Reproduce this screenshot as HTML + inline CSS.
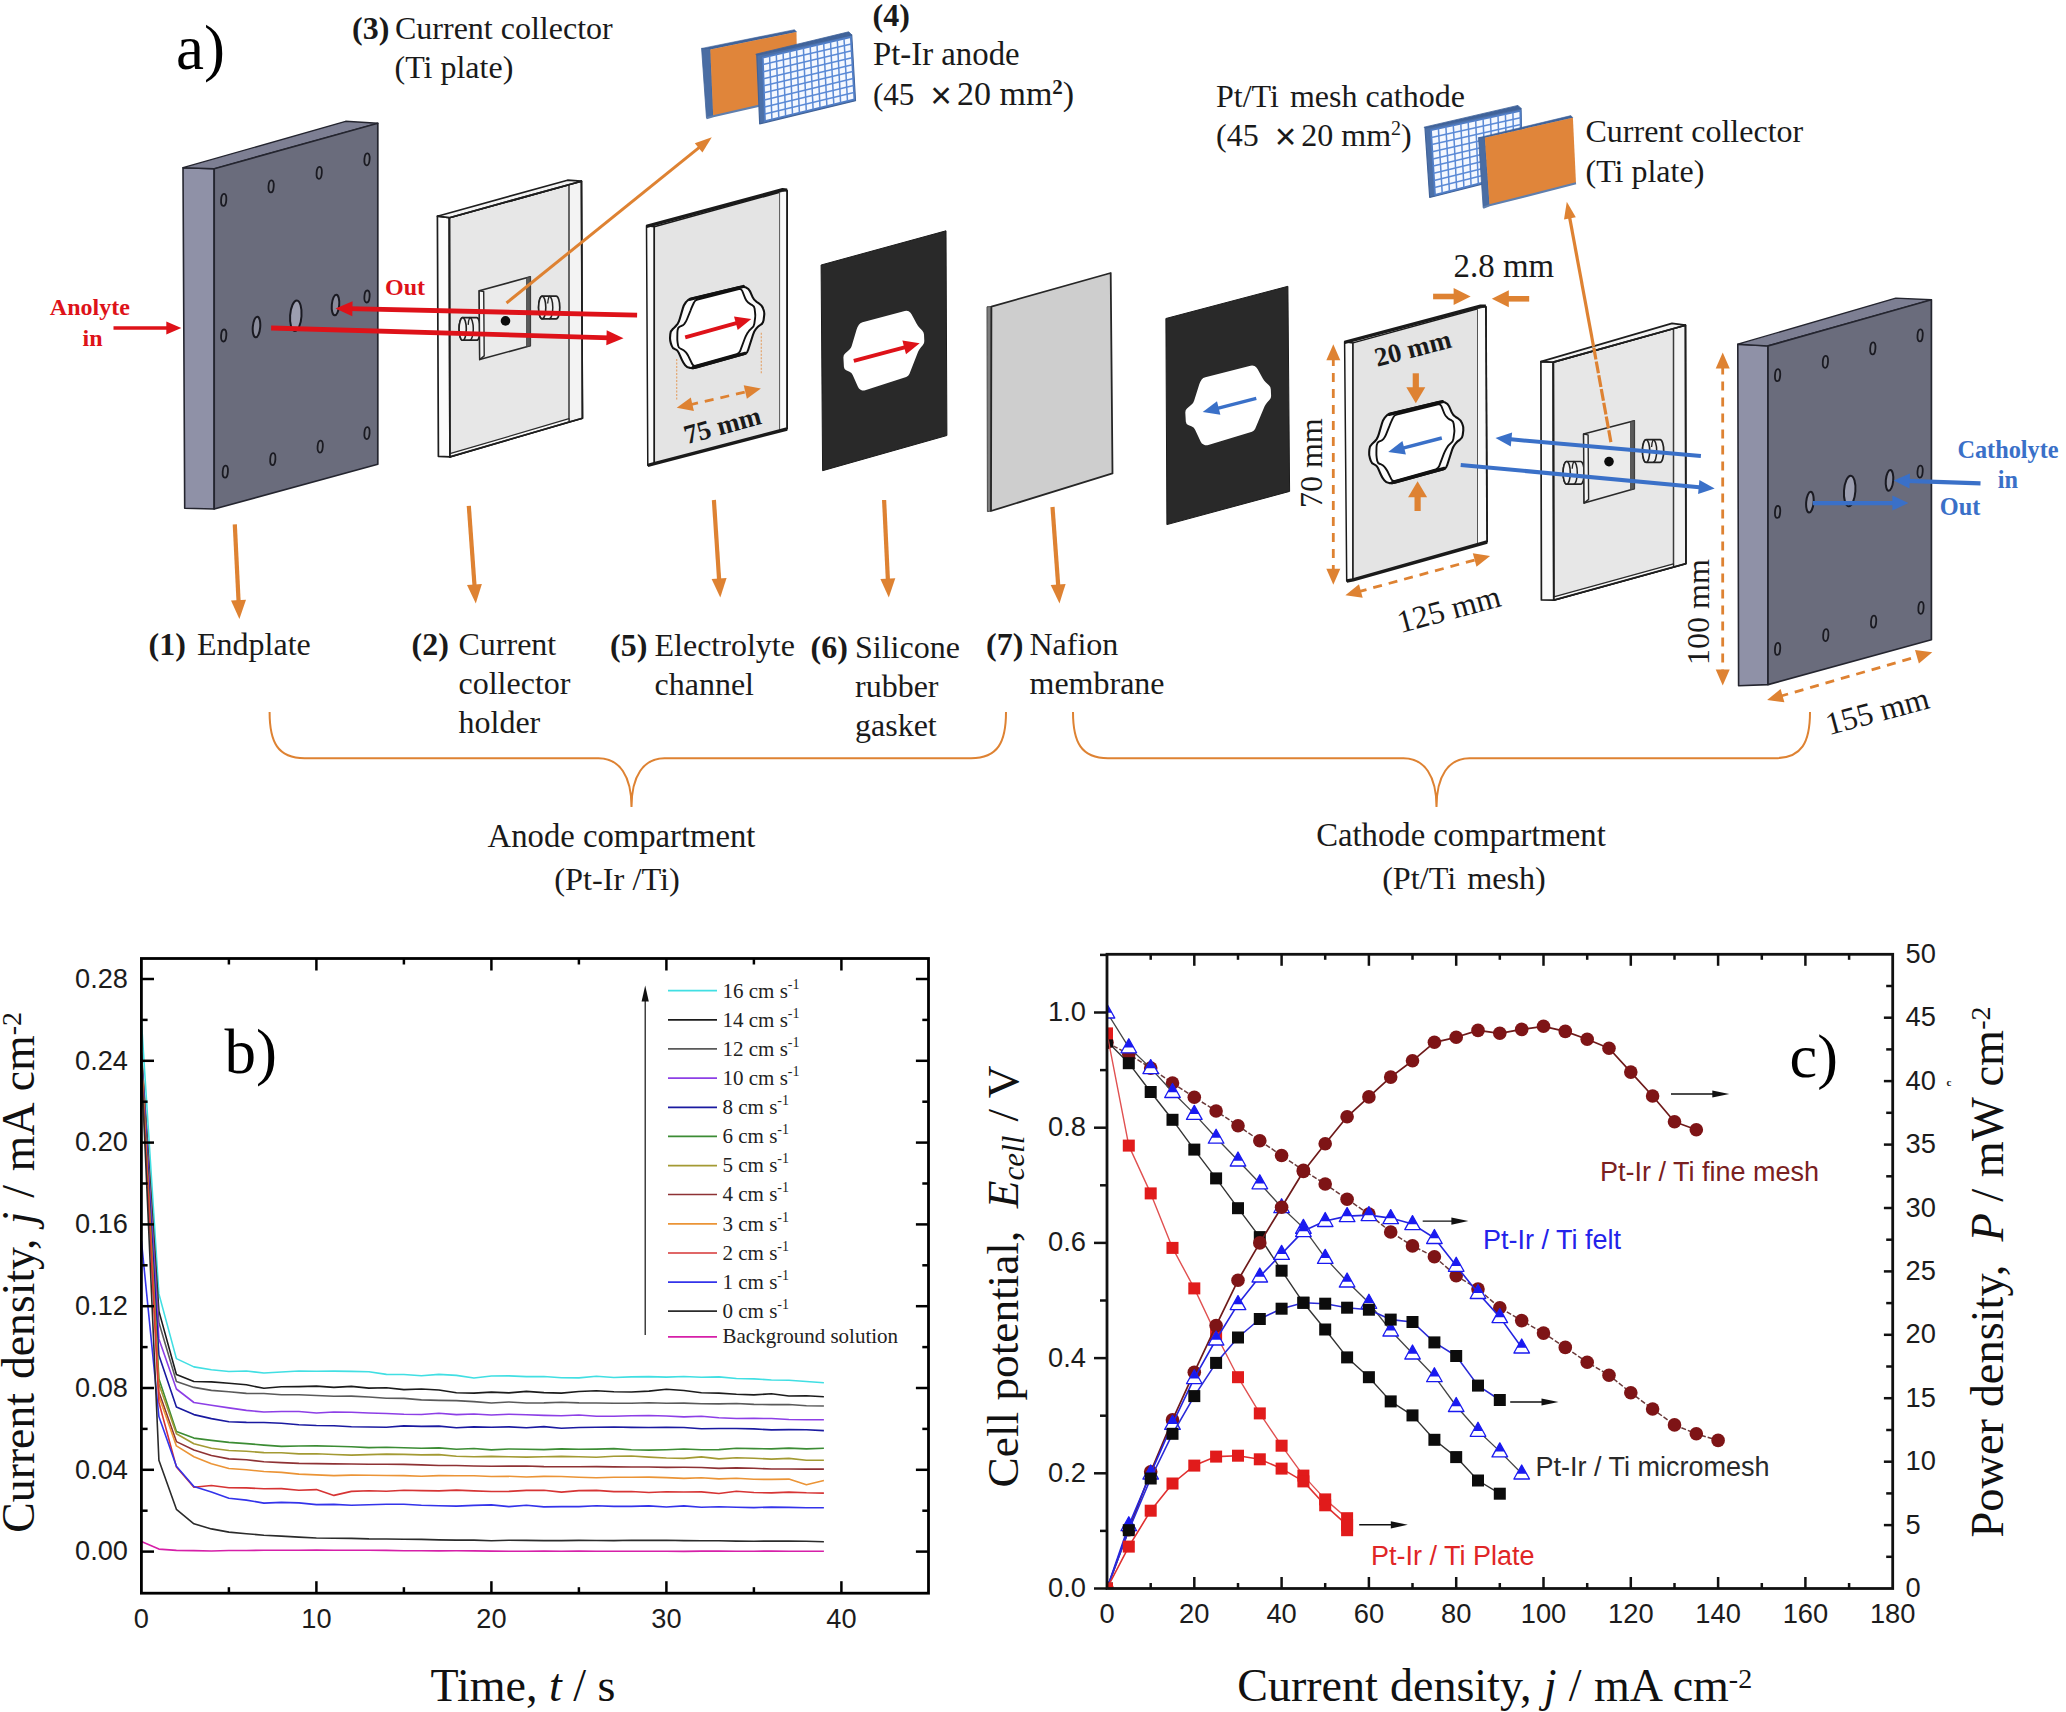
<!DOCTYPE html>
<html><head><meta charset="utf-8"><title>Figure</title>
<style>html,body{margin:0;padding:0;background:#fff}svg{display:block}</style>
</head><body>
<svg width="2066" height="1712" viewBox="0 0 2066 1712">
<rect x="0" y="0" width="2066" height="1712" fill="#ffffff"/>
<g id="parta">
<polygon points="183,167.7 214.2,168.8 214.2,509 184.7,508.3" fill="#8f91a7" stroke="#24252f" stroke-width="1.6" stroke-linejoin="round" />
<polygon points="183,167.7 345.6,121.3 377.8,123.3 214.2,168.8" fill="#7d7f93" stroke="#24252f" stroke-width="1.4" stroke-linejoin="round" />
<polygon points="214.2,168.8 377.8,123.3 377.8,464.2 214.2,509" fill="#6a6c7c" stroke="#24252f" stroke-width="1.7" stroke-linejoin="round" />
<ellipse cx="223.7" cy="199.9" rx="2.6" ry="6" fill="#72747f" stroke="#1a1a22" stroke-width="1.8" transform="rotate(4 223.7 199.9)"/>
<ellipse cx="271.1" cy="186.4" rx="2.6" ry="6" fill="#72747f" stroke="#1a1a22" stroke-width="1.8" transform="rotate(4 271.1 186.4)"/>
<ellipse cx="319.2" cy="172.8" rx="2.6" ry="6" fill="#72747f" stroke="#1a1a22" stroke-width="1.8" transform="rotate(4 319.2 172.8)"/>
<ellipse cx="367" cy="159.3" rx="2.6" ry="6" fill="#72747f" stroke="#1a1a22" stroke-width="1.8" transform="rotate(4 367 159.3)"/>
<ellipse cx="223.7" cy="335.5" rx="2.6" ry="6" fill="#72747f" stroke="#1a1a22" stroke-width="1.8" transform="rotate(4 223.7 335.5)"/>
<ellipse cx="367" cy="296.5" rx="2.6" ry="6" fill="#72747f" stroke="#1a1a22" stroke-width="1.8" transform="rotate(4 367 296.5)"/>
<ellipse cx="225.3" cy="471.7" rx="2.6" ry="6" fill="#72747f" stroke="#1a1a22" stroke-width="1.8" transform="rotate(4 225.3 471.7)"/>
<ellipse cx="272.8" cy="459.2" rx="2.6" ry="6" fill="#72747f" stroke="#1a1a22" stroke-width="1.8" transform="rotate(4 272.8 459.2)"/>
<ellipse cx="320.2" cy="446.6" rx="2.6" ry="6" fill="#72747f" stroke="#1a1a22" stroke-width="1.8" transform="rotate(4 320.2 446.6)"/>
<ellipse cx="367" cy="433.1" rx="2.6" ry="6" fill="#72747f" stroke="#1a1a22" stroke-width="1.8" transform="rotate(4 367 433.1)"/>
<ellipse cx="256.5" cy="327" rx="3.7" ry="10.4" fill="#8a8c9c" stroke="#1a1a22" stroke-width="2.0" transform="rotate(5 256.5 327)"/>
<ellipse cx="335.5" cy="305" rx="3.7" ry="10.4" fill="#8a8c9c" stroke="#1a1a22" stroke-width="2.0" transform="rotate(5 335.5 305)"/>
<ellipse cx="295.8" cy="315.8" rx="5.7" ry="15.3" fill="#9c9eb0" stroke="#1a1a22" stroke-width="2.0" transform="rotate(4 295.8 315.8)"/>
<polygon points="437.4,216.2 449.4,217.7 449.9,456.9 438.4,456.4" fill="#fcfcfc" stroke="#1e1e1e" stroke-width="1.7" stroke-linejoin="round" />
<polygon points="449.4,217.7 581.4,181.2 582.4,418.2 449.9,456.9" fill="#e7e7e7" stroke="#1e1e1e" stroke-width="1.7" stroke-linejoin="round" />
<polygon points="569,184.6 581.4,181.2 582.4,418.2 569,421.9" fill="#f3f3f3" stroke="#3a3a3a" stroke-width="1.5" stroke-linejoin="round" />
<polygon points="449.9,453.7 569,418.7 569,421.9 449.9,456.9" fill="#f8f8f8" stroke="#2a2a2a" stroke-width="1.2" stroke-linejoin="round" />
<polygon points="437.4,216.2 567.5,180.2 581.4,181.2 449.4,217.7" fill="#f4f4f4" stroke="#1e1e1e" stroke-width="1.7" stroke-linejoin="round" />
<polygon points="449.4,217.7 581.4,181.2 582.4,418.2 449.9,456.9" fill="none" stroke="#1e1e1e" stroke-width="1.7" stroke-linejoin="round" />
<g transform="translate(469.7 328.9)">
<path d="M-7,-11.3 L7,-11.3 A3.6,11.3 0 0 1 7,11.3 L-7,11.3 A3.6,11.3 0 0 1 -7,-11.3 Z" fill="#efefef" stroke="#222" stroke-width="1.7" />
<ellipse cx="-7" cy="0" rx="3.6" ry="11.3" fill="#f2f2f2" stroke="#222" stroke-width="1.6" />
<path d="M0,-11.3 A3.6,11.3 0 0 1 0,11.3" fill="none" stroke="#222" stroke-width="1.5" />
<path d="M0,-11.3 A3.6,11.3 0 0 0 -1.5,-4" fill="none" stroke="#222" stroke-width="1.3" />
</g>
<g transform="translate(549.2 307.5)">
<path d="M-7,-11.3 L7,-11.3 A3.6,11.3 0 0 1 7,11.3 L-7,11.3 A3.6,11.3 0 0 1 -7,-11.3 Z" fill="#efefef" stroke="#222" stroke-width="1.7" />
<ellipse cx="-7" cy="0" rx="3.6" ry="11.3" fill="#f2f2f2" stroke="#222" stroke-width="1.6" />
<path d="M0,-11.3 A3.6,11.3 0 0 1 0,11.3" fill="none" stroke="#222" stroke-width="1.5" />
<path d="M0,-11.3 A3.6,11.3 0 0 0 -1.5,-4" fill="none" stroke="#222" stroke-width="1.3" />
</g>
<polygon points="479.2,290.7 530.3,276.8 530.3,345.7 479.7,359.6" fill="#ebebeb" stroke="#2a2a2a" stroke-width="1.6" stroke-linejoin="round" />
<polygon points="479.2,290.7 483.7,291.5 484.2,355.9 479.7,359.6" fill="#f6f6f6" stroke="#2a2a2a" stroke-width="1.4" stroke-linejoin="round" />
<polygon points="526.5,277.8 530.3,276.8 530.3,345.7 526.5,346.7" fill="#5a5a5a" stroke="#444" stroke-width="0.8" stroke-linejoin="round" />
<circle cx="505.5" cy="320.9" r="4.8" fill="#0c0c0c"/>
<line x1="506.5" y1="303" x2="701.2" y2="145.8" stroke="#de8232" stroke-width="3" />
<polygon points="711.8,137.2 702.4,152.6 694.8,143.3" fill="#de8232" stroke="none" stroke-width="1" stroke-linejoin="round" />
<line x1="637.1" y1="315.1" x2="349.1" y2="308.7" stroke="#de1219" stroke-width="4.8" />
<polygon points="335.5,308.4 352.6,301.3 352.3,316.3" fill="#de1219" stroke="none" stroke-width="1" stroke-linejoin="round" />
<line x1="271.1" y1="328" x2="609.9" y2="337.8" stroke="#de1219" stroke-width="4.8" />
<polygon points="623.5,338.2 606.3,345.2 606.7,330.2" fill="#de1219" stroke="none" stroke-width="1" stroke-linejoin="round" />
<line x1="113.5" y1="328" x2="169.3" y2="328" stroke="#de1219" stroke-width="3.6" />
<polygon points="181.3,328 166.3,334.5 166.3,321.5" fill="#de1219" stroke="none" stroke-width="1" stroke-linejoin="round" />
<text x="89.8" y="315.3" font-family='"Liberation Serif", serif' font-size="24" fill="#de1219" font-weight="bold" font-style="normal" text-anchor="middle" >Anolyte</text>
<text x="92.5" y="346" font-family='"Liberation Serif", serif' font-size="24" fill="#de1219" font-weight="bold" font-style="normal" text-anchor="middle" >in</text>
<text x="405" y="294.5" font-family='"Liberation Serif", serif' font-size="24" fill="#de1219" font-weight="bold" font-style="normal" text-anchor="middle" >Out</text>
<polygon points="701.6,48.4 794.5,29.7 796.5,31.9 710.3,49.4" fill="#40639a" stroke="#40639a" stroke-width="0.6" stroke-linejoin="round" />
<polygon points="701.6,48.4 710.3,49.4 713.2,116.2 706.5,118.1" fill="#4a6da3" stroke="#40639a" stroke-width="0.8" stroke-linejoin="round" />
<polygon points="710.3,49.4 796.5,31.9 797.5,97 713.2,116.2" fill="#e0853a" stroke="none" stroke-width="1" stroke-linejoin="round" />
<polyline points="706.5,118.1 713.2,116.2 797.5,97" fill="none" stroke="#5f7fae" stroke-width="2.2" stroke-linejoin="round" />
<polygon points="755.8,54.2 848.7,31.8 851.7,34.8 756.8,55.2" fill="#40639a" stroke="#40639a" stroke-width="0.8" stroke-linejoin="round" />
<polygon points="756.8,55.2 851.7,34.8 855.5,100.7 759.7,123.9" fill="#4c70a8" stroke="#40639a" stroke-width="1.2" stroke-linejoin="round" />
<polygon points="762.8,57.6 850.8,37 854.4,99.3 765,121" fill="#f4f8ff" stroke="#4f7cc4" stroke-width="1.8" stroke-linejoin="round" />
<line x1="769.6" y1="56" x2="771.9" y2="119.3" stroke="#5b8ad6" stroke-width="1.5" />
<line x1="776.3" y1="54.4" x2="778.8" y2="117.7" stroke="#5b8ad6" stroke-width="1.5" />
<line x1="783.1" y1="52.8" x2="785.6" y2="116" stroke="#5b8ad6" stroke-width="1.5" />
<line x1="789.9" y1="51.3" x2="792.5" y2="114.3" stroke="#5b8ad6" stroke-width="1.5" />
<line x1="796.6" y1="49.7" x2="799.4" y2="112.7" stroke="#5b8ad6" stroke-width="1.5" />
<line x1="803.4" y1="48.1" x2="806.3" y2="111" stroke="#5b8ad6" stroke-width="1.5" />
<line x1="810.2" y1="46.5" x2="813.1" y2="109.3" stroke="#5b8ad6" stroke-width="1.5" />
<line x1="817" y1="44.9" x2="820" y2="107.6" stroke="#5b8ad6" stroke-width="1.5" />
<line x1="823.7" y1="43.3" x2="826.9" y2="106" stroke="#5b8ad6" stroke-width="1.5" />
<line x1="830.5" y1="41.8" x2="833.8" y2="104.3" stroke="#5b8ad6" stroke-width="1.5" />
<line x1="837.3" y1="40.2" x2="840.6" y2="102.6" stroke="#5b8ad6" stroke-width="1.5" />
<line x1="844" y1="38.6" x2="847.5" y2="101" stroke="#5b8ad6" stroke-width="1.5" />
<line x1="763" y1="64.6" x2="851.2" y2="43.9" stroke="#5b8ad6" stroke-width="1.5" />
<line x1="763.3" y1="71.7" x2="851.6" y2="50.8" stroke="#5b8ad6" stroke-width="1.5" />
<line x1="763.5" y1="78.7" x2="852" y2="57.8" stroke="#5b8ad6" stroke-width="1.5" />
<line x1="763.8" y1="85.8" x2="852.4" y2="64.7" stroke="#5b8ad6" stroke-width="1.5" />
<line x1="764" y1="92.8" x2="852.8" y2="71.6" stroke="#5b8ad6" stroke-width="1.5" />
<line x1="764.3" y1="99.9" x2="853.2" y2="78.5" stroke="#5b8ad6" stroke-width="1.5" />
<line x1="764.5" y1="106.9" x2="853.6" y2="85.5" stroke="#5b8ad6" stroke-width="1.5" />
<line x1="764.8" y1="114" x2="854" y2="92.4" stroke="#5b8ad6" stroke-width="1.5" />
<text x="872.5" y="25.5" font-family='"Liberation Serif", serif' font-size="32" fill="#1a1a1a" font-weight="bold" font-style="normal" text-anchor="start" >(4)</text>
<text x="873" y="65" font-family='"Liberation Serif", serif' font-size="32.8" fill="#1a1a1a" font-weight="normal" font-style="normal" text-anchor="start" >Pt-Ir anode</text>
<text x="873" y="104.5" font-family='"Liberation Serif", serif' font-size="32" fill="#1a1a1a" font-weight="normal" font-style="normal" text-anchor="start" ><tspan font-size="31">(45</tspan>  <tspan font-family='"Liberation Sans", sans-serif' font-size="37" dy="3" dx="0">×</tspan><tspan dx="5" dy="-3" font-size="34">20 mm</tspan><tspan font-size="21" dy="-11" font-weight="bold">2</tspan><tspan dy="11" font-size="34">)</tspan></text>
<text x="352" y="39" font-family='"Liberation Serif", serif' font-size="32" fill="#1a1a1a" font-weight="bold" font-style="normal" text-anchor="start" >(3)</text>
<text x="395" y="39" font-family='"Liberation Serif", serif' font-size="32" fill="#1a1a1a" font-weight="normal" font-style="normal" text-anchor="start" >Current collector</text>
<text x="394.5" y="78" font-family='"Liberation Serif", serif' font-size="32" fill="#1a1a1a" font-weight="normal" font-style="normal" text-anchor="start" >(Ti plate)</text>
<text x="176" y="69" font-family='"Liberation Serif", serif' font-size="63" fill="#000" font-weight="normal" font-style="normal" text-anchor="start" >a)</text>
<polygon points="646.5,225.7 654.3,226.7 654.3,463.6 647.8,465.4" fill="#fbfbfb" stroke="#1a1a1a" stroke-width="1.5" stroke-linejoin="round" />
<polygon points="654.3,226.7 787.1,190.2 787.1,429 654.3,463.6" fill="#e4e4e4" stroke="#1a1a1a" stroke-width="1.5" stroke-linejoin="round" />
<polygon points="779.6,192.2 787.1,190.2 787.1,429 779.6,431" fill="#fafafa" stroke="#555" stroke-width="1" stroke-linejoin="round" />
<polyline points="646.5,226.3 782.6,189.7 787.1,190.1" fill="none" stroke="#1a1a1a" stroke-width="3.3" stroke-linejoin="round" />
<polyline points="647.8,465.4 654.3,463.6 787.1,429" fill="none" stroke="#1a1a1a" stroke-width="3.4" stroke-linejoin="round" />
<polyline points="787.1,190.2 787.1,429" fill="none" stroke="#1a1a1a" stroke-width="1.8" stroke-linejoin="round" />
<path d="M686.1,302 Q688,299.4 691.1,298.7 L739.6,287 Q742.7,286.3 745.4,287.2 L746,287.4 Q748.7,288.4 750,291.3 L752.6,297.2 Q753.9,300.1 756.6,301.9 L758.9,303.3 Q761.6,305 762.9,308 L763.3,309.1 Q764.6,312.1 764.2,315.2 L763.6,320.1 Q763.2,323.3 760.9,324.6 L760.4,324.9 Q758.1,326.2 756.2,328.7 L755.8,329.2 Q753.9,331.7 753,334.7 L748.2,349.7 Q747.3,352.7 745.8,353.4 L745.5,353.6 Q744.1,354.3 741,355.1 L696.7,367.4 Q693.6,368.3 690.6,368 L690,367.9 Q687,367.6 685.3,365.3 L684.9,364.8 Q683.1,362.5 681.8,359.6 L678.8,352.8 Q677.5,349.9 675.3,349.3 L674.8,349.1 Q672.6,348.5 671.6,345.5 L670.8,343.1 Q669.8,340.1 670.1,336.9 L670.3,334.2 Q670.5,331 672.9,328.9 L673.7,328.2 Q676.1,326.1 677.4,324.2 L677.7,323.8 Q678.9,321.9 679.8,318.8 L682.9,308.1 Q683.8,305 685.7,302.5 Z" fill="#fbfbfb" stroke="#111" stroke-width="2.1" stroke-linejoin="round"/>
<path d="M694,302.5 Q695,300.1 697.6,299.5 L738.8,289.2 Q741.3,288.6 742.3,291 L745.2,298.4 Q746.2,300.8 748.1,302.4 L748.5,302.8 Q750.4,304.3 752.2,305.1 L752.5,305.3 Q754.3,306.1 754.6,308.7 L755.1,313 Q755.5,315.6 755.1,318.1 L754.3,323.8 Q753.9,326.4 751.9,328 L751.1,328.7 Q749,330.3 747.8,332.6 L746.8,334.3 Q745.5,336.6 744.6,339 L740.1,351.1 Q739.2,353.5 736.7,354.2 L695.8,365.7 Q693.3,366.4 692.2,364 L688.5,356.4 Q687.3,354.1 685.8,352.2 L685.4,351.8 Q683.8,349.9 681.5,349.1 L680.9,348.9 Q678.6,348.2 678.1,345.6 L677.6,342.7 Q677.2,340.1 677.3,337.5 L677.4,332.2 Q677.5,329.6 678.2,328.3 L678.3,328 Q678.9,326.8 680.8,326.1 L681.2,326 Q683.1,325.4 684.4,323.8 L684.7,323.4 Q685.9,321.9 686.9,319.5 L690.6,310.3 Q691.5,307.8 692.6,305.5 Z" fill="#ffffff" stroke="#111" stroke-width="1.9" stroke-linejoin="round"/>
<line x1="690.1" y1="299.3" x2="743.4" y2="286.5" stroke="#111" stroke-width="3.2" stroke-linecap="round"/>
<line x1="692.9" y1="367.6" x2="745.2" y2="353.3" stroke="#111" stroke-width="3.2" stroke-linecap="round"/>
<line x1="685.2" y1="337.3" x2="739" y2="322.4" stroke="#de1219" stroke-width="3.9" />
<polygon points="751.3,319 737.7,330 734,316.5" fill="#de1219" stroke="none" stroke-width="1" stroke-linejoin="round" />
<line x1="676.7" y1="358.9" x2="676.7" y2="400.4" stroke="#e3a56e" stroke-width="1.2" stroke-dasharray="2 1.5"/>
<line x1="761.3" y1="332.7" x2="761.3" y2="374.2" stroke="#e3a56e" stroke-width="1.2" stroke-dasharray="2 1.5"/>
<line x1="689.2" y1="405" x2="748.4" y2="391.3" stroke="#de8232" stroke-width="2.8" stroke-dasharray="9 7"/>
<polygon points="760.9,388.4 746.9,398.8 743.7,385.2" fill="#de8232" stroke="none" stroke-width="1" stroke-linejoin="round" />
<polygon points="676.7,407.8 690.8,397.4 693.9,411.1" fill="#de8232" stroke="none" stroke-width="1" stroke-linejoin="round" />
<text x="0" y="0" font-family='"Liberation Serif", serif' font-size="27" fill="#1a1a1a" font-weight="bold" font-style="normal" text-anchor="middle" transform="translate(724.8 434) rotate(-15.2)" >75 mm</text>
<polygon points="821.1,265 946,230.8 946.9,435.5 822.6,470.7" fill="#292929" stroke="#1c1c1c" stroke-width="1" stroke-linejoin="round" />
<path d="M858.9,324.8 Q860.1,322.9 862.5,322.3 L904.8,310.9 Q907.1,310.3 908.7,311.3 L909,311.5 Q910.6,312.4 911.7,314.6 L916.5,323.6 Q917.6,325.7 919.3,327.4 L922.2,330.4 Q923.9,332.1 924,334.5 L924.3,340.9 Q924.4,343.3 922.9,345.1 L920.6,347.8 Q919,349.6 918.1,351.8 L909.4,374 Q908.5,376.2 906.2,377 L865.2,390.2 Q862.9,390.9 861.1,390 L860.6,389.8 Q858.7,388.8 857.8,386.6 L852.7,374.9 Q851.7,372.7 849.5,371.7 L846.2,370.2 Q844,369.2 843.9,366.8 L843.4,357.6 Q843.3,355.2 845.1,353.6 L849.3,349.8 Q851,348.2 851.7,345.9 L856.6,329.4 Q857.3,327.1 858.6,325.3 Z" fill="#fff" stroke="none" stroke-width="1" />
<line x1="853.8" y1="360.8" x2="907.3" y2="346.6" stroke="#de1219" stroke-width="3.9" />
<polygon points="919.7,343.3 906,354.2 902.4,340.6" fill="#de1219" stroke="none" stroke-width="1" stroke-linejoin="round" />
<polygon points="987,306.8 991.4,306.6 991,511 987.4,511.6" fill="#7e7e7e" stroke="#4a4a4a" stroke-width="1" stroke-linejoin="round" />
<polygon points="991.4,306.6 1110.7,273 1112.5,473.4 991,511" fill="#cecece" stroke="#262626" stroke-width="1.8" stroke-linejoin="round" />
<polygon points="1165.9,318.5 1287.9,286.3 1289.6,491.4 1166.9,524.6" fill="#292929" stroke="#1c1c1c" stroke-width="1" stroke-linejoin="round" />
<path d="M1201.7,379.6 Q1203,377.7 1205.4,377.2 L1250.5,365.7 Q1252.8,365.1 1254.5,366.1 L1254.9,366.3 Q1256.5,367.2 1257.7,369.3 L1262.8,378.5 Q1264,380.5 1265.7,382.2 L1268.9,385.2 Q1270.7,386.9 1270.8,389.3 L1271.1,395.7 Q1271.2,398.1 1269.6,399.8 L1267.1,402.6 Q1265.5,404.4 1264.5,406.6 L1255.2,428.8 Q1254.3,431 1252,431.7 L1208.3,445 Q1206,445.7 1204,444.8 L1203.6,444.6 Q1201.6,443.6 1200.6,441.4 L1195.1,429.7 Q1194.1,427.5 1191.9,426.6 L1188.2,424.9 Q1186,424 1185.8,421.6 L1185.3,412.4 Q1185.2,410 1187,408.4 L1191.6,404.5 Q1193.4,403 1194.1,400.7 L1199.3,384.2 Q1200.1,381.9 1201.4,380.1 Z" fill="#fff" stroke="none" stroke-width="1" />
<line x1="1256.3" y1="398.4" x2="1215.5" y2="408.8" stroke="#3a70c8" stroke-width="3.4" />
<polygon points="1202.7,412 1217,401.2 1220.4,414.7" fill="#3a70c8" stroke="none" stroke-width="1" stroke-linejoin="round" />
<polygon points="1344.6,341.7 1353,342.9 1353,579.8 1346.7,581" fill="#fbfbfb" stroke="#1a1a1a" stroke-width="1.5" stroke-linejoin="round" />
<polygon points="1353,342.9 1485.9,306.5 1487.1,542 1353,579.8" fill="#e4e4e4" stroke="#1a1a1a" stroke-width="1.5" stroke-linejoin="round" />
<polygon points="1477.5,308.8 1485.9,306.5 1487.1,542 1477.5,544.7" fill="#fafafa" stroke="#555" stroke-width="1" stroke-linejoin="round" />
<polyline points="1344.6,342.3 1480.5,306.2 1485.9,306.1" fill="none" stroke="#1a1a1a" stroke-width="3.3" stroke-linejoin="round" />
<polyline points="1346.7,581 1353,579.8 1487.1,542" fill="none" stroke="#1a1a1a" stroke-width="3.4" stroke-linejoin="round" />
<polyline points="1485.9,306.5 1487.1,542" fill="none" stroke="#1a1a1a" stroke-width="1.8" stroke-linejoin="round" />
<path d="M1385.2,417.1 Q1387.1,414.5 1390.2,413.8 L1438.7,402.1 Q1441.8,401.4 1444.5,402.3 L1445.1,402.5 Q1447.8,403.5 1449.1,406.4 L1451.7,412.3 Q1453,415.2 1455.7,417 L1458,418.4 Q1460.7,420.1 1462,423.1 L1462.4,424.2 Q1463.7,427.2 1463.3,430.3 L1462.7,435.2 Q1462.3,438.4 1460,439.7 L1459.5,440 Q1457.2,441.3 1455.3,443.8 L1454.9,444.3 Q1453,446.8 1452.1,449.8 L1447.3,464.8 Q1446.4,467.8 1444.9,468.5 L1444.6,468.7 Q1443.2,469.4 1440.1,470.2 L1395.8,482.5 Q1392.7,483.4 1389.7,483.1 L1389.1,483 Q1386.1,482.7 1384.4,480.4 L1384,479.9 Q1382.2,477.6 1380.9,474.7 L1377.9,467.9 Q1376.6,465 1374.4,464.4 L1373.9,464.2 Q1371.7,463.6 1370.7,460.6 L1369.9,458.2 Q1368.9,455.2 1369.2,452 L1369.4,449.3 Q1369.6,446.1 1372,444 L1372.8,443.3 Q1375.2,441.2 1376.5,439.3 L1376.8,438.9 Q1378,437 1378.9,433.9 L1382,423.2 Q1382.9,420.1 1384.8,417.6 Z" fill="#fbfbfb" stroke="#111" stroke-width="2.1" stroke-linejoin="round"/>
<path d="M1393.1,417.6 Q1394.1,415.2 1396.7,414.6 L1437.9,404.3 Q1440.4,403.7 1441.4,406.1 L1444.3,413.5 Q1445.3,415.9 1447.2,417.5 L1447.6,417.9 Q1449.5,419.4 1451.3,420.2 L1451.6,420.4 Q1453.4,421.2 1453.7,423.8 L1454.2,428.1 Q1454.6,430.7 1454.2,433.2 L1453.4,438.9 Q1453,441.5 1451,443.1 L1450.2,443.8 Q1448.1,445.4 1446.9,447.7 L1445.9,449.4 Q1444.6,451.7 1443.7,454.1 L1439.2,466.2 Q1438.3,468.6 1435.8,469.3 L1394.9,480.8 Q1392.4,481.5 1391.3,479.1 L1387.6,471.5 Q1386.4,469.2 1384.9,467.3 L1384.5,466.9 Q1382.9,465 1380.6,464.2 L1380,464 Q1377.7,463.3 1377.2,460.7 L1376.7,457.8 Q1376.3,455.2 1376.4,452.6 L1376.5,447.3 Q1376.6,444.7 1377.3,443.4 L1377.4,443.1 Q1378,441.9 1379.9,441.2 L1380.3,441.1 Q1382.2,440.5 1383.5,438.9 L1383.8,438.5 Q1385,437 1386,434.6 L1389.7,425.4 Q1390.6,422.9 1391.7,420.6 Z" fill="#ffffff" stroke="#111" stroke-width="1.9" stroke-linejoin="round"/>
<line x1="1389.2" y1="414.4" x2="1442.5" y2="401.6" stroke="#111" stroke-width="3.2" stroke-linecap="round"/>
<line x1="1392" y1="482.7" x2="1444.3" y2="468.4" stroke="#111" stroke-width="3.2" stroke-linecap="round"/>
<line x1="1441.8" y1="438" x2="1401" y2="448.7" stroke="#3a70c8" stroke-width="3.4" />
<polygon points="1388.2,452 1402.4,441.1 1405.9,454.6" fill="#3a70c8" stroke="none" stroke-width="1" stroke-linejoin="round" />
<line x1="1415.8" y1="373.3" x2="1415.8" y2="390.4" stroke="#de8232" stroke-width="6.2" />
<polygon points="1415.8,403.2 1406.3,387.2 1425.3,387.2" fill="#de8232" stroke="none" stroke-width="1" stroke-linejoin="round" />
<line x1="1417.6" y1="511" x2="1417.6" y2="494.1" stroke="#de8232" stroke-width="6.2" />
<polygon points="1417.6,481.3 1427.1,497.3 1408.1,497.3" fill="#de8232" stroke="none" stroke-width="1" stroke-linejoin="round" />
<text x="0" y="0" font-family='"Liberation Serif", serif' font-size="26.8" fill="#1a1a1a" font-weight="bold" font-style="normal" text-anchor="middle" transform="translate(1415 357) rotate(-14.5)" >20 mm</text>
<text x="1453.6" y="277.1" font-family='"Liberation Serif", serif' font-size="32.9" fill="#1a1a1a" font-weight="normal" font-style="normal" text-anchor="start" >2.8 mm</text>
<line x1="1433.1" y1="296.5" x2="1457" y2="296.5" stroke="#de8232" stroke-width="5.6" />
<polygon points="1470.6,296.5 1453.6,305 1453.6,288" fill="#de8232" stroke="none" stroke-width="1" stroke-linejoin="round" />
<line x1="1529.2" y1="298.8" x2="1505.4" y2="298.8" stroke="#de8232" stroke-width="5.6" />
<polygon points="1491.8,298.8 1508.8,290.3 1508.8,307.3" fill="#de8232" stroke="none" stroke-width="1" stroke-linejoin="round" />
<line x1="1333.3" y1="357" x2="1333.3" y2="572" stroke="#de8232" stroke-width="2.8" stroke-dasharray="9 7"/>
<polygon points="1333.3,584.8 1326.3,568.8 1340.3,568.8" fill="#de8232" stroke="none" stroke-width="1" stroke-linejoin="round" />
<polygon points="1333.3,344.2 1340.3,360.2 1326.3,360.2" fill="#de8232" stroke="none" stroke-width="1" stroke-linejoin="round" />
<text x="0" y="0" font-family='"Liberation Serif", serif' font-size="32" fill="#1a1a1a" font-weight="normal" font-style="normal" text-anchor="middle" transform="translate(1322.4 463.2) rotate(-90)" >70 mm</text>
<line x1="1357.8" y1="591.9" x2="1477.7" y2="559.2" stroke="#de8232" stroke-width="2.8" stroke-dasharray="9 7"/>
<polygon points="1490.1,555.9 1476.5,566.8 1472.8,553.3" fill="#de8232" stroke="none" stroke-width="1" stroke-linejoin="round" />
<polygon points="1345.4,595.3 1359,584.3 1362.7,597.8" fill="#de8232" stroke="none" stroke-width="1" stroke-linejoin="round" />
<text x="0" y="0" font-family='"Liberation Serif", serif' font-size="32" fill="#1a1a1a" font-weight="normal" font-style="normal" text-anchor="middle" transform="translate(1451.5 619.5) rotate(-15)" >125 mm</text>
<polygon points="1540.9,361.6 1553.3,362.1 1553.8,600.1 1541.4,599.9" fill="#fcfcfc" stroke="#1e1e1e" stroke-width="1.7" stroke-linejoin="round" />
<polygon points="1553.3,362.1 1685.4,325.2 1685.9,563.6 1553.8,600.1" fill="#e7e7e7" stroke="#1e1e1e" stroke-width="1.7" stroke-linejoin="round" />
<polygon points="1673.5,328.5 1685.4,325.2 1685.9,563.6 1673.5,567.1" fill="#f3f3f3" stroke="#3a3a3a" stroke-width="1.5" stroke-linejoin="round" />
<polygon points="1553.8,596.9 1673.5,563.9 1673.5,567.1 1553.8,600.1" fill="#f8f8f8" stroke="#2a2a2a" stroke-width="1.2" stroke-linejoin="round" />
<polygon points="1540.9,361.6 1672,323.4 1685.4,325.2 1553.3,362.1" fill="#f4f4f4" stroke="#1e1e1e" stroke-width="1.7" stroke-linejoin="round" />
<polygon points="1553.3,362.1 1685.4,325.2 1685.9,563.6 1553.8,600.1" fill="none" stroke="#1e1e1e" stroke-width="1.7" stroke-linejoin="round" />
<g transform="translate(1573.7 472.8)">
<path d="M-7,-11.3 L7,-11.3 A3.6,11.3 0 0 1 7,11.3 L-7,11.3 A3.6,11.3 0 0 1 -7,-11.3 Z" fill="#efefef" stroke="#222" stroke-width="1.7" />
<ellipse cx="-7" cy="0" rx="3.6" ry="11.3" fill="#f2f2f2" stroke="#222" stroke-width="1.6" />
<path d="M0,-11.3 A3.6,11.3 0 0 1 0,11.3" fill="none" stroke="#222" stroke-width="1.5" />
<path d="M0,-11.3 A3.6,11.3 0 0 0 -1.5,-4" fill="none" stroke="#222" stroke-width="1.3" />
</g>
<g transform="translate(1653.1 451)">
<path d="M-7,-11.3 L7,-11.3 A3.6,11.3 0 0 1 7,11.3 L-7,11.3 A3.6,11.3 0 0 1 -7,-11.3 Z" fill="#efefef" stroke="#222" stroke-width="1.7" />
<ellipse cx="-7" cy="0" rx="3.6" ry="11.3" fill="#f2f2f2" stroke="#222" stroke-width="1.6" />
<path d="M0,-11.3 A3.6,11.3 0 0 1 0,11.3" fill="none" stroke="#222" stroke-width="1.5" />
<path d="M0,-11.3 A3.6,11.3 0 0 0 -1.5,-4" fill="none" stroke="#222" stroke-width="1.3" />
</g>
<polygon points="1583.6,434.1 1634.3,420.7 1634.3,488.7 1584.1,503.1" fill="#ebebeb" stroke="#2a2a2a" stroke-width="1.6" stroke-linejoin="round" />
<polygon points="1583.6,434.1 1588.1,434.9 1588.6,499.4 1584.1,503.1" fill="#f6f6f6" stroke="#2a2a2a" stroke-width="1.4" stroke-linejoin="round" />
<polygon points="1630.5,421.7 1634.3,420.7 1634.3,488.7 1630.5,489.7" fill="#5a5a5a" stroke="#444" stroke-width="0.8" stroke-linejoin="round" />
<circle cx="1609" cy="461.6" r="4.8" fill="#0c0c0c"/>
<line x1="1610.9" y1="442.1" x2="1593.6" y2="346.7" stroke="#de8232" stroke-width="3.2" stroke-dasharray="12 2"/>
<line x1="1593.6" y1="346.7" x2="1569.2" y2="215.1" stroke="#de8232" stroke-width="3.2" />
<polygon points="1566.8,201.7 1575.8,217.3 1564,219.5" fill="#de8232" stroke="none" stroke-width="1" stroke-linejoin="round" />
<polygon points="1737.8,344.2 1768,345.9 1768,684.6 1738.6,685.8" fill="#8f91a7" stroke="#24252f" stroke-width="1.6" stroke-linejoin="round" />
<polygon points="1737.8,344.2 1895.8,298.1 1931.4,299.8 1768,345.9" fill="#7d7f93" stroke="#24252f" stroke-width="1.4" stroke-linejoin="round" />
<polygon points="1768,345.9 1931.4,299.8 1931.4,639.7 1768,684.6" fill="#6a6c7c" stroke="#24252f" stroke-width="1.7" stroke-linejoin="round" />
<ellipse cx="1777.6" cy="375.2" rx="2.6" ry="6" fill="#72747f" stroke="#1a1a22" stroke-width="1.8" transform="rotate(4 1777.6 375.2)"/>
<ellipse cx="1825.4" cy="361.8" rx="2.6" ry="6" fill="#72747f" stroke="#1a1a22" stroke-width="1.8" transform="rotate(4 1825.4 361.8)"/>
<ellipse cx="1872.8" cy="348.4" rx="2.6" ry="6" fill="#72747f" stroke="#1a1a22" stroke-width="1.8" transform="rotate(4 1872.8 348.4)"/>
<ellipse cx="1920.1" cy="335.4" rx="2.6" ry="6" fill="#72747f" stroke="#1a1a22" stroke-width="1.8" transform="rotate(4 1920.1 335.4)"/>
<ellipse cx="1777.6" cy="511.9" rx="2.6" ry="6" fill="#72747f" stroke="#1a1a22" stroke-width="1.8" transform="rotate(4 1777.6 511.9)"/>
<ellipse cx="1920.1" cy="471.6" rx="2.6" ry="6" fill="#72747f" stroke="#1a1a22" stroke-width="1.8" transform="rotate(4 1920.1 471.6)"/>
<ellipse cx="1777.6" cy="648.9" rx="2.6" ry="6" fill="#72747f" stroke="#1a1a22" stroke-width="1.8" transform="rotate(4 1777.6 648.9)"/>
<ellipse cx="1825.8" cy="635.1" rx="2.6" ry="6" fill="#72747f" stroke="#1a1a22" stroke-width="1.8" transform="rotate(4 1825.8 635.1)"/>
<ellipse cx="1873.6" cy="621.7" rx="2.6" ry="6" fill="#72747f" stroke="#1a1a22" stroke-width="1.8" transform="rotate(4 1873.6 621.7)"/>
<ellipse cx="1921" cy="607.8" rx="2.6" ry="6" fill="#72747f" stroke="#1a1a22" stroke-width="1.8" transform="rotate(4 1921 607.8)"/>
<ellipse cx="1809.9" cy="502.2" rx="3.7" ry="10.4" fill="#8a8c9c" stroke="#1a1a22" stroke-width="2.0" transform="rotate(5 1809.9 502.2)"/>
<ellipse cx="1889.5" cy="480.4" rx="3.7" ry="10.4" fill="#8a8c9c" stroke="#1a1a22" stroke-width="2.0" transform="rotate(5 1889.5 480.4)"/>
<ellipse cx="1849.7" cy="490.9" rx="5.7" ry="15.3" fill="#9c9eb0" stroke="#1a1a22" stroke-width="2.0" transform="rotate(4 1849.7 490.9)"/>
<line x1="1700.9" y1="456" x2="1508.3" y2="439.1" stroke="#3a70c8" stroke-width="4" />
<polygon points="1495.5,438 1512.1,432.4 1510.8,446.4" fill="#3a70c8" stroke="none" stroke-width="1" stroke-linejoin="round" />
<line x1="1460.7" y1="465" x2="1702" y2="487.4" stroke="#3a70c8" stroke-width="4" />
<polygon points="1714.7,488.6 1698.1,494.1 1699.4,480.1" fill="#3a70c8" stroke="none" stroke-width="1" stroke-linejoin="round" />
<line x1="1980.5" y1="483.4" x2="1906.5" y2="480.9" stroke="#3a70c8" stroke-width="4.2" />
<polygon points="1893.7,480.4 1910,473.5 1909.5,488.5" fill="#3a70c8" stroke="none" stroke-width="1" stroke-linejoin="round" />
<line x1="1812.8" y1="503.1" x2="1895.6" y2="503.1" stroke="#3a70c8" stroke-width="4.2" />
<polygon points="1908.4,503.1 1892.4,510.6 1892.4,495.6" fill="#3a70c8" stroke="none" stroke-width="1" stroke-linejoin="round" />
<text x="2008" y="458" font-family='"Liberation Serif", serif' font-size="24.3" fill="#3a70c8" font-weight="bold" font-style="normal" text-anchor="middle" >Catholyte</text>
<text x="2008" y="488" font-family='"Liberation Serif", serif' font-size="24.3" fill="#3a70c8" font-weight="bold" font-style="normal" text-anchor="middle" >in</text>
<text x="1960" y="515" font-family='"Liberation Serif", serif' font-size="24.3" fill="#3a70c8" font-weight="bold" font-style="normal" text-anchor="middle" >Out</text>
<line x1="1722.7" y1="365.4" x2="1722.7" y2="672.6" stroke="#de8232" stroke-width="2.8" stroke-dasharray="9 7"/>
<polygon points="1722.7,685.4 1715.7,669.4 1729.7,669.4" fill="#de8232" stroke="none" stroke-width="1" stroke-linejoin="round" />
<polygon points="1722.7,352.6 1729.7,368.6 1715.7,368.6" fill="#de8232" stroke="none" stroke-width="1" stroke-linejoin="round" />
<text x="0" y="0" font-family='"Liberation Serif", serif' font-size="32" fill="#1a1a1a" font-weight="normal" font-style="normal" text-anchor="middle" transform="translate(1708.5 612) rotate(-90)" >100 mm</text>
<line x1="1779.4" y1="696.5" x2="1920" y2="655.8" stroke="#de8232" stroke-width="2.8" stroke-dasharray="9 7"/>
<polygon points="1932.3,652.3 1918.9,663.5 1915,650" fill="#de8232" stroke="none" stroke-width="1" stroke-linejoin="round" />
<polygon points="1767.1,700.1 1780.6,688.9 1784.4,702.3" fill="#de8232" stroke="none" stroke-width="1" stroke-linejoin="round" />
<text x="0" y="0" font-family='"Liberation Serif", serif' font-size="32" fill="#1a1a1a" font-weight="normal" font-style="normal" text-anchor="middle" transform="translate(1880 721.5) rotate(-15)" >155 mm</text>
<polygon points="1424,127.2 1518,105.4 1521,108.4 1425,128.2" fill="#40639a" stroke="#40639a" stroke-width="0.8" stroke-linejoin="round" />
<polygon points="1425,128.2 1521,108.4 1522.5,173.8 1429.7,197.4" fill="#4c70a8" stroke="#40639a" stroke-width="1.2" stroke-linejoin="round" />
<polygon points="1431,130.2 1520.3,110.8 1521.6,172.6 1435,194.8" fill="#f4f8ff" stroke="#4f7cc4" stroke-width="1.8" stroke-linejoin="round" />
<line x1="1438.4" y1="128.6" x2="1442.2" y2="192.9" stroke="#5b8ad6" stroke-width="1.5" />
<line x1="1445.9" y1="127" x2="1449.4" y2="191.1" stroke="#5b8ad6" stroke-width="1.5" />
<line x1="1453.3" y1="125.3" x2="1456.7" y2="189.3" stroke="#5b8ad6" stroke-width="1.5" />
<line x1="1460.8" y1="123.7" x2="1463.9" y2="187.4" stroke="#5b8ad6" stroke-width="1.5" />
<line x1="1468.2" y1="122.1" x2="1471.1" y2="185.6" stroke="#5b8ad6" stroke-width="1.5" />
<line x1="1475.7" y1="120.5" x2="1478.3" y2="183.7" stroke="#5b8ad6" stroke-width="1.5" />
<line x1="1483.1" y1="118.9" x2="1485.5" y2="181.8" stroke="#5b8ad6" stroke-width="1.5" />
<line x1="1490.5" y1="117.3" x2="1492.7" y2="180" stroke="#5b8ad6" stroke-width="1.5" />
<line x1="1498" y1="115.6" x2="1499.9" y2="178.1" stroke="#5b8ad6" stroke-width="1.5" />
<line x1="1505.4" y1="114" x2="1507.2" y2="176.3" stroke="#5b8ad6" stroke-width="1.5" />
<line x1="1512.9" y1="112.4" x2="1514.4" y2="174.5" stroke="#5b8ad6" stroke-width="1.5" />
<line x1="1431.4" y1="137.4" x2="1520.4" y2="117.7" stroke="#5b8ad6" stroke-width="1.5" />
<line x1="1431.9" y1="144.6" x2="1520.6" y2="124.5" stroke="#5b8ad6" stroke-width="1.5" />
<line x1="1432.3" y1="151.7" x2="1520.7" y2="131.4" stroke="#5b8ad6" stroke-width="1.5" />
<line x1="1432.8" y1="158.9" x2="1520.9" y2="138.3" stroke="#5b8ad6" stroke-width="1.5" />
<line x1="1433.2" y1="166.1" x2="1521" y2="145.1" stroke="#5b8ad6" stroke-width="1.5" />
<line x1="1433.7" y1="173.3" x2="1521.2" y2="152" stroke="#5b8ad6" stroke-width="1.5" />
<line x1="1434.1" y1="180.4" x2="1521.3" y2="158.9" stroke="#5b8ad6" stroke-width="1.5" />
<line x1="1434.6" y1="187.6" x2="1521.5" y2="165.7" stroke="#5b8ad6" stroke-width="1.5" />
<polygon points="1478.5,137.7 1570.9,115.6 1572.9,117.8 1484.8,137.7" fill="#40639a" stroke="#40639a" stroke-width="0.6" stroke-linejoin="round" />
<polygon points="1478.5,137.7 1484.8,137.7 1489.5,205.3 1483.2,207.8" fill="#4a6da3" stroke="#40639a" stroke-width="0.8" stroke-linejoin="round" />
<polygon points="1484.8,137.7 1572.9,117.8 1576,183.3 1489.5,205.3" fill="#e0853a" stroke="none" stroke-width="1" stroke-linejoin="round" />
<polyline points="1483.2,207.8 1489.5,205.3 1576,183.3" fill="none" stroke="#5f7fae" stroke-width="2.2" stroke-linejoin="round" />
<text x="1216" y="107" font-family='"Liberation Serif", serif' font-size="32" fill="#1a1a1a" font-weight="normal" font-style="normal" text-anchor="start" >Pt/Ti <tspan dx="3">mesh cathode</tspan></text>
<text x="1216" y="146" font-family='"Liberation Serif", serif' font-size="32" fill="#1a1a1a" font-weight="normal" font-style="normal" text-anchor="start" >(45  <tspan font-family='"Liberation Sans", sans-serif' font-size="37" dy="3">×</tspan><tspan dx="5" dy="-3">20 mm</tspan><tspan font-size="20" dy="-11">2</tspan><tspan dy="11">)</tspan></text>
<text x="1585.5" y="142" font-family='"Liberation Serif", serif' font-size="32" fill="#1a1a1a" font-weight="normal" font-style="normal" text-anchor="start" >Current collector</text>
<text x="1585.5" y="181.5" font-family='"Liberation Serif", serif' font-size="32" fill="#1a1a1a" font-weight="normal" font-style="normal" text-anchor="start" >(Ti plate)</text>
<line x1="234.8" y1="524.4" x2="238.7" y2="603.9" stroke="#de8232" stroke-width="4.2" />
<polygon points="239.4,619.1 231,600.5 246,599.7" fill="#de8232" stroke="none" stroke-width="1" stroke-linejoin="round" />
<line x1="468.8" y1="505.8" x2="474.7" y2="588.2" stroke="#de8232" stroke-width="4.2" />
<polygon points="475.8,603.4 467,585 481.9,583.9" fill="#de8232" stroke="none" stroke-width="1" stroke-linejoin="round" />
<line x1="713.9" y1="500" x2="719.3" y2="582.4" stroke="#de8232" stroke-width="4.2" />
<polygon points="720.3,597.6 711.6,579.1 726.6,578.1" fill="#de8232" stroke="none" stroke-width="1" stroke-linejoin="round" />
<line x1="884.1" y1="500" x2="888" y2="582.4" stroke="#de8232" stroke-width="4.2" />
<polygon points="888.8,597.6 880.4,579 895.3,578.2" fill="#de8232" stroke="none" stroke-width="1" stroke-linejoin="round" />
<line x1="1052.5" y1="507" x2="1058.4" y2="588.2" stroke="#de8232" stroke-width="4.2" />
<polygon points="1059.5,603.4 1050.7,585 1065.6,583.9" fill="#de8232" stroke="none" stroke-width="1" stroke-linejoin="round" />
<text x="148.5" y="655" font-family='"Liberation Serif", serif' font-size="32" fill="#1a1a1a" font-weight="bold" font-style="normal" text-anchor="start" >(1)</text>
<text x="197" y="655" font-family='"Liberation Serif", serif' font-size="32" fill="#1a1a1a" font-weight="normal" font-style="normal" text-anchor="start" >Endplate</text>
<text x="411.5" y="655" font-family='"Liberation Serif", serif' font-size="32" fill="#1a1a1a" font-weight="bold" font-style="normal" text-anchor="start" >(2)</text>
<text x="458.5" y="655" font-family='"Liberation Serif", serif' font-size="32" fill="#1a1a1a" font-weight="normal" font-style="normal" text-anchor="start" >Current</text>
<text x="458.5" y="694" font-family='"Liberation Serif", serif' font-size="32" fill="#1a1a1a" font-weight="normal" font-style="normal" text-anchor="start" >collector</text>
<text x="458.5" y="733" font-family='"Liberation Serif", serif' font-size="32" fill="#1a1a1a" font-weight="normal" font-style="normal" text-anchor="start" >holder</text>
<text x="610" y="656" font-family='"Liberation Serif", serif' font-size="32" fill="#1a1a1a" font-weight="bold" font-style="normal" text-anchor="start" >(5)</text>
<text x="654.5" y="656" font-family='"Liberation Serif", serif' font-size="32" fill="#1a1a1a" font-weight="normal" font-style="normal" text-anchor="start" >Electrolyte</text>
<text x="654.5" y="695" font-family='"Liberation Serif", serif' font-size="32" fill="#1a1a1a" font-weight="normal" font-style="normal" text-anchor="start" >channel</text>
<text x="810.5" y="658" font-family='"Liberation Serif", serif' font-size="32" fill="#1a1a1a" font-weight="bold" font-style="normal" text-anchor="start" >(6)</text>
<text x="855" y="658" font-family='"Liberation Serif", serif' font-size="32" fill="#1a1a1a" font-weight="normal" font-style="normal" text-anchor="start" >Silicone</text>
<text x="855" y="697" font-family='"Liberation Serif", serif' font-size="32" fill="#1a1a1a" font-weight="normal" font-style="normal" text-anchor="start" >rubber</text>
<text x="855" y="736" font-family='"Liberation Serif", serif' font-size="32" fill="#1a1a1a" font-weight="normal" font-style="normal" text-anchor="start" >gasket</text>
<text x="986" y="655" font-family='"Liberation Serif", serif' font-size="32" fill="#1a1a1a" font-weight="bold" font-style="normal" text-anchor="start" >(7)</text>
<text x="1029.5" y="655" font-family='"Liberation Serif", serif' font-size="32" fill="#1a1a1a" font-weight="normal" font-style="normal" text-anchor="start" >Nafion</text>
<text x="1029.5" y="694" font-family='"Liberation Serif", serif' font-size="32" fill="#1a1a1a" font-weight="normal" font-style="normal" text-anchor="start" >membrane</text>
<path d="M269.6,712 C269.6,742 277.6,758.2 304.6,758.2 L598.5,758.2 C619.5,758.2 631.5,776.2 631.5,807 C631.5,776.2 643.5,758.2 664.5,758.2 L971,758.2 C998,758.2 1006,742 1006,712" fill="none" stroke="#de8232" stroke-width="2.0" />
<path d="M1073,712 C1073,742 1081,758.2 1108,758.2 L1403.5,758.2 C1424.5,758.2 1436.5,776.2 1436.5,807 C1436.5,776.2 1448.5,758.2 1469.5,758.2 L1775,758.2 C1802,758.2 1810,742 1810,712" fill="none" stroke="#de8232" stroke-width="2.0" />
<text x="621.5" y="846.5" font-family='"Liberation Serif", serif' font-size="32.7" fill="#1a1a1a" font-weight="normal" font-style="normal" text-anchor="middle" >Anode compartment</text>
<text x="617" y="889.5" font-family='"Liberation Serif", serif' font-size="32.4" fill="#1a1a1a" font-weight="normal" font-style="normal" text-anchor="middle" >(Pt-Ir /Ti)</text>
<text x="1461" y="846.3" font-family='"Liberation Serif", serif' font-size="32.7" fill="#1a1a1a" font-weight="normal" font-style="normal" text-anchor="middle" >Cathode compartment</text>
<text x="1464" y="889.3" font-family='"Liberation Serif", serif' font-size="32.2" fill="#1a1a1a" font-weight="normal" font-style="normal" text-anchor="middle" >(Pt/Ti <tspan dx="3">mesh)</tspan></text>
</g>
<g id="partb">
<g clip-path="url(#clipb)">
<clipPath id="clipb"><rect x="141.4" y="958.5" width="787.1" height="634.7"/></clipPath>
<polyline points="141.4,1020.5 158.9,1293.9 176.4,1358.6 193.9,1366.9 211.4,1369.7 228.9,1371.5 246.4,1371 263.9,1373 281.4,1372 298.9,1371 316.4,1371.3 333.9,1371.1 351.4,1371.4 368.9,1371.7 386.4,1374.4 403.9,1374.5 421.4,1375.8 438.9,1374.4 456.4,1375.4 473.9,1378 491.4,1376 508.9,1375.9 526.4,1376.6 543.9,1376.5 561.4,1377.7 578.9,1377.9 596.4,1376.3 613.9,1377.5 631.4,1376.9 648.9,1376.6 666.4,1377.1 683.9,1376.5 701.4,1377.3 718.9,1376.9 736.4,1378.5 753.9,1378.9 771.4,1380 788.9,1380.2 806.4,1381.5 823.9,1382.7" fill="none" stroke="#41dfe3" stroke-width="1.6" stroke-linejoin="round" />
<polyline points="141.4,1052.6 158.9,1311.1 176.4,1374.5 193.9,1381.5 211.4,1381.9 228.9,1383.3 246.4,1384.8 263.9,1388.3 281.4,1386.8 298.9,1386.6 316.4,1386.1 333.9,1387.4 351.4,1386.4 368.9,1388.1 386.4,1387.7 403.9,1389.6 421.4,1389 438.9,1390 456.4,1392.8 473.9,1393.1 491.4,1392.1 508.9,1392.9 526.4,1391.4 543.9,1392.6 561.4,1393.1 578.9,1391.5 596.4,1390.8 613.9,1391.8 631.4,1392 648.9,1391.1 666.4,1389.3 683.9,1390.5 701.4,1392.8 718.9,1393.1 736.4,1394.2 753.9,1394.9 771.4,1393.8 788.9,1396 806.4,1395.8 823.9,1396.7" fill="none" stroke="#1c1c1c" stroke-width="1.6" stroke-linejoin="round" />
<polyline points="141.4,1054.7 158.9,1322.6 176.4,1381.5 193.9,1387.4 211.4,1390.4 228.9,1391.8 246.4,1393.4 263.9,1393.5 281.4,1394.7 298.9,1394.8 316.4,1395.5 333.9,1396.2 351.4,1396.1 368.9,1397 386.4,1398.3 403.9,1398.4 421.4,1399.9 438.9,1400.4 456.4,1400.6 473.9,1401.6 491.4,1403 508.9,1402 526.4,1403 543.9,1402.9 561.4,1402.3 578.9,1402.9 596.4,1403 613.9,1403.3 631.4,1403.3 648.9,1402.8 666.4,1403.2 683.9,1403.1 701.4,1403.7 718.9,1403.9 736.4,1403.5 753.9,1404.4 771.4,1404.6 788.9,1404.5 806.4,1405.7 823.9,1406" fill="none" stroke="#5a5a5a" stroke-width="1.6" stroke-linejoin="round" />
<polyline points="141.4,1056.7 158.9,1338.9 176.4,1389 193.9,1402.5 211.4,1405.3 228.9,1407.9 246.4,1410.4 263.9,1412 281.4,1411.5 298.9,1411.5 316.4,1413 333.9,1412 351.4,1412.3 368.9,1413 386.4,1413.5 403.9,1414.2 421.4,1414.5 438.9,1413.2 456.4,1414.6 473.9,1414 491.4,1415 508.9,1414.2 526.4,1414.8 543.9,1415.4 561.4,1415.8 578.9,1415 596.4,1416.3 613.9,1416.2 631.4,1415.8 648.9,1415.5 666.4,1416 683.9,1416.9 701.4,1416.3 718.9,1417.8 736.4,1418.5 753.9,1418.4 771.4,1418.5 788.9,1419.5 806.4,1419.7 823.9,1419.7" fill="none" stroke="#8d3fe6" stroke-width="1.6" stroke-linejoin="round" />
<polyline points="141.4,1058.8 158.9,1355.3 176.4,1407 193.9,1414.6 211.4,1418.6 228.9,1421.7 246.4,1422.4 263.9,1422.5 281.4,1423.3 298.9,1424.7 316.4,1425.5 333.9,1425.8 351.4,1426.7 368.9,1427 386.4,1427.2 403.9,1425.9 421.4,1426.4 438.9,1426.1 456.4,1427.8 473.9,1426.9 491.4,1427.3 508.9,1426.9 526.4,1427.7 543.9,1426.6 561.4,1428.2 578.9,1427.5 596.4,1427.2 613.9,1427 631.4,1427.4 648.9,1427.5 666.4,1427.4 683.9,1427.5 701.4,1428.8 718.9,1428.5 736.4,1428.5 753.9,1428.9 771.4,1429.9 788.9,1429.6 806.4,1429.8 823.9,1430.6" fill="none" stroke="#1a1aa0" stroke-width="1.6" stroke-linejoin="round" />
<polyline points="141.4,1060.8 158.9,1378.8 176.4,1431.4 193.9,1438.1 211.4,1440.4 228.9,1442.4 246.4,1443.6 263.9,1445.1 281.4,1446.4 298.9,1446 316.4,1445.9 333.9,1446.3 351.4,1446.8 368.9,1447.6 386.4,1447.3 403.9,1447.8 421.4,1448.3 438.9,1447.9 456.4,1449.3 473.9,1448.5 491.4,1449.9 508.9,1449 526.4,1449.2 543.9,1449.6 561.4,1448.9 578.9,1449.3 596.4,1449.1 613.9,1448.6 631.4,1449.7 648.9,1450.1 666.4,1449.7 683.9,1449 701.4,1449.7 718.9,1449.6 736.4,1448.3 753.9,1448.6 771.4,1448.9 788.9,1448.1 806.4,1448.9 823.9,1448.3" fill="none" stroke="#3c8c34" stroke-width="1.6" stroke-linejoin="round" />
<polyline points="141.4,1060.8 158.9,1383.9 176.4,1433.8 193.9,1443.8 211.4,1448.3 228.9,1450.5 246.4,1451.3 263.9,1452.6 281.4,1452.8 298.9,1453.9 316.4,1453.7 333.9,1454.5 351.4,1455.1 368.9,1454.6 386.4,1454.1 403.9,1454.4 421.4,1454.9 438.9,1454.6 456.4,1456.3 473.9,1456.7 491.4,1456.4 508.9,1456.8 526.4,1457.1 543.9,1456.7 561.4,1456.4 578.9,1456.7 596.4,1457.2 613.9,1456.2 631.4,1456 648.9,1457.1 666.4,1458 683.9,1458.4 701.4,1456.9 718.9,1458.9 736.4,1457.8 753.9,1458.3 771.4,1459.1 788.9,1458.4 806.4,1460.3 823.9,1460.3" fill="none" stroke="#a39a33" stroke-width="1.6" stroke-linejoin="round" />
<polyline points="141.4,1060.8 158.9,1392.1 176.4,1441.6 193.9,1450 211.4,1455.5 228.9,1458.9 246.4,1459.8 263.9,1461.8 281.4,1462.6 298.9,1463.4 316.4,1463.6 333.9,1463.9 351.4,1464 368.9,1464.2 386.4,1464.3 403.9,1464.4 421.4,1464.9 438.9,1465.5 456.4,1465.5 473.9,1466 491.4,1466.3 508.9,1466.1 526.4,1466 543.9,1466.6 561.4,1466.7 578.9,1466.8 596.4,1466.6 613.9,1466.9 631.4,1467 648.9,1467 666.4,1467.4 683.9,1467.3 701.4,1467.5 718.9,1468.4 736.4,1467.9 753.9,1468.3 771.4,1469 788.9,1469 806.4,1469.1 823.9,1469.1" fill="none" stroke="#8e3234" stroke-width="1.6" stroke-linejoin="round" />
<polyline points="141.4,1062.8 158.9,1396.2 176.4,1445.9 193.9,1456.7 211.4,1463.8 228.9,1468.5 246.4,1469.7 263.9,1471.5 281.4,1472.4 298.9,1474.1 316.4,1474.9 333.9,1475.6 351.4,1475.1 368.9,1475.2 386.4,1475.5 403.9,1475.6 421.4,1476.3 438.9,1475.6 456.4,1475.7 473.9,1475.8 491.4,1476.5 508.9,1476.3 526.4,1477 543.9,1476.4 561.4,1476.5 578.9,1477.2 596.4,1477.7 613.9,1477.3 631.4,1477.3 648.9,1477.1 666.4,1477.6 683.9,1478.4 701.4,1477.7 718.9,1478.9 736.4,1478.3 753.9,1479.3 771.4,1479.4 788.9,1479.1 806.4,1484.7 823.9,1480.5" fill="none" stroke="#eb9436" stroke-width="1.6" stroke-linejoin="round" />
<polyline points="141.4,1064.9 158.9,1402.5 176.4,1466.9 193.9,1487.2 211.4,1485.5 228.9,1487.7 246.4,1487.9 263.9,1488.8 281.4,1488.6 298.9,1490.2 316.4,1489.6 333.9,1495.4 351.4,1491.4 368.9,1490.7 386.4,1491.3 403.9,1490.3 421.4,1490.6 438.9,1490.9 456.4,1490.1 473.9,1490.9 491.4,1491.5 508.9,1491.4 526.4,1490.4 543.9,1490.3 561.4,1492.1 578.9,1490.6 596.4,1490.4 613.9,1491.6 631.4,1491.5 648.9,1492.5 666.4,1491.8 683.9,1492 701.4,1491.9 718.9,1493.5 736.4,1491.3 753.9,1492.5 771.4,1492.9 788.9,1492.1 806.4,1492.8 823.9,1493.1" fill="none" stroke="#d63434" stroke-width="1.6" stroke-linejoin="round" />
<polyline points="141.4,1240.8 158.9,1416.6 176.4,1466.3 193.9,1486.6 211.4,1491.9 228.9,1498.3 246.4,1500.1 263.9,1503.1 281.4,1502.4 298.9,1502.9 316.4,1504.6 333.9,1504.4 351.4,1505.2 368.9,1504.8 386.4,1504.2 403.9,1504.2 421.4,1505.2 438.9,1505.7 456.4,1506.1 473.9,1505.4 491.4,1504.9 508.9,1506.6 526.4,1505.3 543.9,1506.9 561.4,1506.6 578.9,1506.6 596.4,1505.7 613.9,1506.4 631.4,1506.4 648.9,1505.9 666.4,1507 683.9,1505.9 701.4,1507.3 718.9,1506.7 736.4,1507.3 753.9,1507.6 771.4,1507.1 788.9,1507.4 806.4,1507.7 823.9,1507.8" fill="none" stroke="#3333ea" stroke-width="1.6" stroke-linejoin="round" />
<polyline points="141.4,1064.9 158.9,1460.2 176.4,1509.3 193.9,1523.8 211.4,1528.9 228.9,1532.1 246.4,1533.7 263.9,1535.2 281.4,1536.1 298.9,1537.1 316.4,1538 333.9,1538.3 351.4,1538.4 368.9,1538.9 386.4,1539 403.9,1539.2 421.4,1539.4 438.9,1539.9 456.4,1540.1 473.9,1540.1 491.4,1540.7 508.9,1540.3 526.4,1540.4 543.9,1540.6 561.4,1540.6 578.9,1540.4 596.4,1540.5 613.9,1540.6 631.4,1540.3 648.9,1540.4 666.4,1540.2 683.9,1540.6 701.4,1540.7 718.9,1540.7 736.4,1541.1 753.9,1541.2 771.4,1541.1 788.9,1541.1 806.4,1541.3 823.9,1541.7" fill="none" stroke="#2b2b2b" stroke-width="1.6" stroke-linejoin="round" />
<polyline points="141.4,1541.4 158.9,1549.1 176.4,1550.4 193.9,1550.6 211.4,1551 228.9,1550.5 246.4,1550.5 263.9,1550.3 281.4,1550.3 298.9,1550.2 316.4,1550.1 333.9,1550.2 351.4,1550.2 368.9,1550.3 386.4,1550.4 403.9,1550.7 421.4,1550.8 438.9,1550.9 456.4,1550.8 473.9,1550.9 491.4,1551.1 508.9,1551.3 526.4,1551.3 543.9,1551 561.4,1551.2 578.9,1551.1 596.4,1551.2 613.9,1551.2 631.4,1551.2 648.9,1551.2 666.4,1551.2 683.9,1551.4 701.4,1551.1 718.9,1551.1 736.4,1551.3 753.9,1551.2 771.4,1551.1 788.9,1551.2 806.4,1551.3 823.9,1551.3" fill="none" stroke="#d61fa8" stroke-width="1.6" stroke-linejoin="round" />
</g>
<rect x="141.4" y="958.5" width="787.1" height="634.7" fill="none" stroke="#000" stroke-width="2.8"/>
<line x1="228.9" y1="1593.2" x2="228.9" y2="1587.2" stroke="#000" stroke-width="2.5" />
<line x1="228.9" y1="958.5" x2="228.9" y2="964.5" stroke="#000" stroke-width="2.5" />
<line x1="316.4" y1="1593.2" x2="316.4" y2="1581.2" stroke="#000" stroke-width="2.5" />
<line x1="316.4" y1="958.5" x2="316.4" y2="970.5" stroke="#000" stroke-width="2.5" />
<line x1="403.9" y1="1593.2" x2="403.9" y2="1587.2" stroke="#000" stroke-width="2.5" />
<line x1="403.9" y1="958.5" x2="403.9" y2="964.5" stroke="#000" stroke-width="2.5" />
<line x1="491.4" y1="1593.2" x2="491.4" y2="1581.2" stroke="#000" stroke-width="2.5" />
<line x1="491.4" y1="958.5" x2="491.4" y2="970.5" stroke="#000" stroke-width="2.5" />
<line x1="578.9" y1="1593.2" x2="578.9" y2="1587.2" stroke="#000" stroke-width="2.5" />
<line x1="578.9" y1="958.5" x2="578.9" y2="964.5" stroke="#000" stroke-width="2.5" />
<line x1="666.4" y1="1593.2" x2="666.4" y2="1581.2" stroke="#000" stroke-width="2.5" />
<line x1="666.4" y1="958.5" x2="666.4" y2="970.5" stroke="#000" stroke-width="2.5" />
<line x1="753.9" y1="1593.2" x2="753.9" y2="1587.2" stroke="#000" stroke-width="2.5" />
<line x1="753.9" y1="958.5" x2="753.9" y2="964.5" stroke="#000" stroke-width="2.5" />
<line x1="841.4" y1="1593.2" x2="841.4" y2="1581.2" stroke="#000" stroke-width="2.5" />
<line x1="841.4" y1="958.5" x2="841.4" y2="970.5" stroke="#000" stroke-width="2.5" />
<line x1="141.4" y1="1551.6" x2="154" y2="1551.6" stroke="#000" stroke-width="2.5" />
<line x1="928.5" y1="1551.6" x2="915.9" y2="1551.6" stroke="#000" stroke-width="2.5" />
<line x1="141.4" y1="1510.7" x2="147.6" y2="1510.7" stroke="#000" stroke-width="2.5" />
<line x1="928.5" y1="1510.7" x2="922.3" y2="1510.7" stroke="#000" stroke-width="2.5" />
<line x1="141.4" y1="1469.8" x2="154" y2="1469.8" stroke="#000" stroke-width="2.5" />
<line x1="928.5" y1="1469.8" x2="915.9" y2="1469.8" stroke="#000" stroke-width="2.5" />
<line x1="141.4" y1="1428.9" x2="147.6" y2="1428.9" stroke="#000" stroke-width="2.5" />
<line x1="928.5" y1="1428.9" x2="922.3" y2="1428.9" stroke="#000" stroke-width="2.5" />
<line x1="141.4" y1="1388" x2="154" y2="1388" stroke="#000" stroke-width="2.5" />
<line x1="928.5" y1="1388" x2="915.9" y2="1388" stroke="#000" stroke-width="2.5" />
<line x1="141.4" y1="1347.1" x2="147.6" y2="1347.1" stroke="#000" stroke-width="2.5" />
<line x1="928.5" y1="1347.1" x2="922.3" y2="1347.1" stroke="#000" stroke-width="2.5" />
<line x1="141.4" y1="1306.2" x2="154" y2="1306.2" stroke="#000" stroke-width="2.5" />
<line x1="928.5" y1="1306.2" x2="915.9" y2="1306.2" stroke="#000" stroke-width="2.5" />
<line x1="141.4" y1="1265.3" x2="147.6" y2="1265.3" stroke="#000" stroke-width="2.5" />
<line x1="928.5" y1="1265.3" x2="922.3" y2="1265.3" stroke="#000" stroke-width="2.5" />
<line x1="141.4" y1="1224.4" x2="154" y2="1224.4" stroke="#000" stroke-width="2.5" />
<line x1="928.5" y1="1224.4" x2="915.9" y2="1224.4" stroke="#000" stroke-width="2.5" />
<line x1="141.4" y1="1183.5" x2="147.6" y2="1183.5" stroke="#000" stroke-width="2.5" />
<line x1="928.5" y1="1183.5" x2="922.3" y2="1183.5" stroke="#000" stroke-width="2.5" />
<line x1="141.4" y1="1142.6" x2="154" y2="1142.6" stroke="#000" stroke-width="2.5" />
<line x1="928.5" y1="1142.6" x2="915.9" y2="1142.6" stroke="#000" stroke-width="2.5" />
<line x1="141.4" y1="1101.7" x2="147.6" y2="1101.7" stroke="#000" stroke-width="2.5" />
<line x1="928.5" y1="1101.7" x2="922.3" y2="1101.7" stroke="#000" stroke-width="2.5" />
<line x1="141.4" y1="1060.8" x2="154" y2="1060.8" stroke="#000" stroke-width="2.5" />
<line x1="928.5" y1="1060.8" x2="915.9" y2="1060.8" stroke="#000" stroke-width="2.5" />
<line x1="141.4" y1="1019.9" x2="147.6" y2="1019.9" stroke="#000" stroke-width="2.5" />
<line x1="928.5" y1="1019.9" x2="922.3" y2="1019.9" stroke="#000" stroke-width="2.5" />
<line x1="141.4" y1="979" x2="154" y2="979" stroke="#000" stroke-width="2.5" />
<line x1="928.5" y1="979" x2="915.9" y2="979" stroke="#000" stroke-width="2.5" />
<text x="128" y="1560.3" font-family='"Liberation Sans", sans-serif' font-size="27.2" fill="#1c1c1c" font-weight="normal" font-style="normal" text-anchor="end" >0.00</text>
<text x="128" y="1478.5" font-family='"Liberation Sans", sans-serif' font-size="27.2" fill="#1c1c1c" font-weight="normal" font-style="normal" text-anchor="end" >0.04</text>
<text x="128" y="1396.7" font-family='"Liberation Sans", sans-serif' font-size="27.2" fill="#1c1c1c" font-weight="normal" font-style="normal" text-anchor="end" >0.08</text>
<text x="128" y="1314.9" font-family='"Liberation Sans", sans-serif' font-size="27.2" fill="#1c1c1c" font-weight="normal" font-style="normal" text-anchor="end" >0.12</text>
<text x="128" y="1233.1" font-family='"Liberation Sans", sans-serif' font-size="27.2" fill="#1c1c1c" font-weight="normal" font-style="normal" text-anchor="end" >0.16</text>
<text x="128" y="1151.3" font-family='"Liberation Sans", sans-serif' font-size="27.2" fill="#1c1c1c" font-weight="normal" font-style="normal" text-anchor="end" >0.20</text>
<text x="128" y="1069.5" font-family='"Liberation Sans", sans-serif' font-size="27.2" fill="#1c1c1c" font-weight="normal" font-style="normal" text-anchor="end" >0.24</text>
<text x="128" y="987.7" font-family='"Liberation Sans", sans-serif' font-size="27.2" fill="#1c1c1c" font-weight="normal" font-style="normal" text-anchor="end" >0.28</text>
<text x="141.4" y="1628.1" font-family='"Liberation Sans", sans-serif' font-size="27.2" fill="#1c1c1c" font-weight="normal" font-style="normal" text-anchor="middle" >0</text>
<text x="316.4" y="1628.1" font-family='"Liberation Sans", sans-serif' font-size="27.2" fill="#1c1c1c" font-weight="normal" font-style="normal" text-anchor="middle" >10</text>
<text x="491.4" y="1628.1" font-family='"Liberation Sans", sans-serif' font-size="27.2" fill="#1c1c1c" font-weight="normal" font-style="normal" text-anchor="middle" >20</text>
<text x="666.4" y="1628.1" font-family='"Liberation Sans", sans-serif' font-size="27.2" fill="#1c1c1c" font-weight="normal" font-style="normal" text-anchor="middle" >30</text>
<text x="841.4" y="1628.1" font-family='"Liberation Sans", sans-serif' font-size="27.2" fill="#1c1c1c" font-weight="normal" font-style="normal" text-anchor="middle" >40</text>
<text x="0" y="0" font-family='"Liberation Serif", serif' font-size="45.7" fill="#111" font-weight="normal" font-style="normal" text-anchor="middle" transform="translate(33.5 1272.3) rotate(-90)" word-spacing="2.6">Current density, <tspan font-style="italic">j</tspan> / mA cm<tspan font-size="28" dy="-13">-2</tspan></text>
<text x="523" y="1700.5" font-family='"Liberation Serif", serif' font-size="46" fill="#111" font-weight="normal" font-style="normal" text-anchor="middle" >Time, <tspan font-style="italic">t</tspan> / s</text>
<text x="224.5" y="1072.5" font-family='"Liberation Serif", serif' font-size="63" fill="#000" font-weight="normal" font-style="normal" text-anchor="start" >b)</text>
<line x1="668" y1="990.7" x2="717" y2="990.7" stroke="#41dfe3" stroke-width="1.7" />
<text x="722.5" y="997.5" font-family='"Liberation Serif", serif' font-size="21" fill="#222" font-weight="normal" font-style="normal" text-anchor="start" >16 cm s<tspan font-size="14" dy="-9">-1</tspan></text>
<line x1="668" y1="1019.9" x2="717" y2="1019.9" stroke="#1c1c1c" stroke-width="1.7" />
<text x="722.5" y="1026.7" font-family='"Liberation Serif", serif' font-size="21" fill="#222" font-weight="normal" font-style="normal" text-anchor="start" >14 cm s<tspan font-size="14" dy="-9">-1</tspan></text>
<line x1="668" y1="1048.9" x2="717" y2="1048.9" stroke="#5a5a5a" stroke-width="1.7" />
<text x="722.5" y="1055.7" font-family='"Liberation Serif", serif' font-size="21" fill="#222" font-weight="normal" font-style="normal" text-anchor="start" >12 cm s<tspan font-size="14" dy="-9">-1</tspan></text>
<line x1="668" y1="1078.1" x2="717" y2="1078.1" stroke="#8d3fe6" stroke-width="1.7" />
<text x="722.5" y="1084.9" font-family='"Liberation Serif", serif' font-size="21" fill="#222" font-weight="normal" font-style="normal" text-anchor="start" >10 cm s<tspan font-size="14" dy="-9">-1</tspan></text>
<line x1="668" y1="1107.4" x2="717" y2="1107.4" stroke="#1a1aa0" stroke-width="1.7" />
<text x="722.5" y="1114.2" font-family='"Liberation Serif", serif' font-size="21" fill="#222" font-weight="normal" font-style="normal" text-anchor="start" >8 cm s<tspan font-size="14" dy="-9">-1</tspan></text>
<line x1="668" y1="1136.3" x2="717" y2="1136.3" stroke="#3c8c34" stroke-width="1.7" />
<text x="722.5" y="1143.1" font-family='"Liberation Serif", serif' font-size="21" fill="#222" font-weight="normal" font-style="normal" text-anchor="start" >6 cm s<tspan font-size="14" dy="-9">-1</tspan></text>
<line x1="668" y1="1165.6" x2="717" y2="1165.6" stroke="#a39a33" stroke-width="1.7" />
<text x="722.5" y="1172.4" font-family='"Liberation Serif", serif' font-size="21" fill="#222" font-weight="normal" font-style="normal" text-anchor="start" >5 cm s<tspan font-size="14" dy="-9">-1</tspan></text>
<line x1="668" y1="1194.5" x2="717" y2="1194.5" stroke="#8e3234" stroke-width="1.7" />
<text x="722.5" y="1201.3" font-family='"Liberation Serif", serif' font-size="21" fill="#222" font-weight="normal" font-style="normal" text-anchor="start" >4 cm s<tspan font-size="14" dy="-9">-1</tspan></text>
<line x1="668" y1="1223.8" x2="717" y2="1223.8" stroke="#eb9436" stroke-width="1.7" />
<text x="722.5" y="1230.6" font-family='"Liberation Serif", serif' font-size="21" fill="#222" font-weight="normal" font-style="normal" text-anchor="start" >3 cm s<tspan font-size="14" dy="-9">-1</tspan></text>
<line x1="668" y1="1253" x2="717" y2="1253" stroke="#d63434" stroke-width="1.7" />
<text x="722.5" y="1259.8" font-family='"Liberation Serif", serif' font-size="21" fill="#222" font-weight="normal" font-style="normal" text-anchor="start" >2 cm s<tspan font-size="14" dy="-9">-1</tspan></text>
<line x1="668" y1="1282.2" x2="717" y2="1282.2" stroke="#3333ea" stroke-width="1.7" />
<text x="722.5" y="1289" font-family='"Liberation Serif", serif' font-size="21" fill="#222" font-weight="normal" font-style="normal" text-anchor="start" >1 cm s<tspan font-size="14" dy="-9">-1</tspan></text>
<line x1="668" y1="1311.2" x2="717" y2="1311.2" stroke="#2b2b2b" stroke-width="1.7" />
<text x="722.5" y="1318" font-family='"Liberation Serif", serif' font-size="21" fill="#222" font-weight="normal" font-style="normal" text-anchor="start" >0 cm s<tspan font-size="14" dy="-9">-1</tspan></text>
<line x1="668" y1="1336.8" x2="717" y2="1336.8" stroke="#d61fa8" stroke-width="1.7" />
<text x="722.5" y="1343.3" font-family='"Liberation Serif", serif' font-size="21" fill="#222" font-weight="normal" font-style="normal" text-anchor="start" >Background solution</text>
<line x1="645.2" y1="1335" x2="645.2" y2="998" stroke="#111" stroke-width="1.2" />
<polygon points="645.2,985.5 641.6,1001.5 648.8,1001.5" fill="#111" stroke="none" stroke-width="1" stroke-linejoin="round" />
</g>
<g id="partc">
<clipPath id="clipc"><rect x="1107" y="954.3" width="785.7" height="634.2"/></clipPath>
<g clip-path="url(#clipc)">
<polyline points="1107,1042.5 1128.8,1054.2 1150.7,1068.1 1172.5,1083 1194.3,1097.3 1216.1,1111 1238,1125.7 1259.8,1140.7 1281.6,1155.5 1303.4,1170.4 1325.2,1184 1347.1,1199.2 1368.9,1214.1 1390.7,1232 1412.5,1245.9 1434.4,1256.8 1456.2,1275.7 1478,1289 1499.8,1307.7 1521.7,1320.6 1543.5,1333.1 1565.3,1347.4 1587.2,1362.3 1609,1375.2 1630.8,1392.7 1652.6,1409 1674.5,1424.9 1696.3,1433.8 1718.1,1440.4" fill="none" stroke="#6a3a3a" stroke-width="1.5" stroke-linejoin="round" stroke-dasharray="5 2"/>
<circle cx="1107" cy="1042.5" r="6.8" fill="#7e1416"/>
<circle cx="1128.8" cy="1054.2" r="6.8" fill="#7e1416"/>
<circle cx="1150.7" cy="1068.1" r="6.8" fill="#7e1416"/>
<circle cx="1172.5" cy="1083" r="6.8" fill="#7e1416"/>
<circle cx="1194.3" cy="1097.3" r="6.8" fill="#7e1416"/>
<circle cx="1216.1" cy="1111" r="6.8" fill="#7e1416"/>
<circle cx="1238" cy="1125.7" r="6.8" fill="#7e1416"/>
<circle cx="1259.8" cy="1140.7" r="6.8" fill="#7e1416"/>
<circle cx="1281.6" cy="1155.5" r="6.8" fill="#7e1416"/>
<circle cx="1303.4" cy="1170.4" r="6.8" fill="#7e1416"/>
<circle cx="1325.2" cy="1184" r="6.8" fill="#7e1416"/>
<circle cx="1347.1" cy="1199.2" r="6.8" fill="#7e1416"/>
<circle cx="1368.9" cy="1214.1" r="6.8" fill="#7e1416"/>
<circle cx="1390.7" cy="1232" r="6.8" fill="#7e1416"/>
<circle cx="1412.5" cy="1245.9" r="6.8" fill="#7e1416"/>
<circle cx="1434.4" cy="1256.8" r="6.8" fill="#7e1416"/>
<circle cx="1456.2" cy="1275.7" r="6.8" fill="#7e1416"/>
<circle cx="1478" cy="1289" r="6.8" fill="#7e1416"/>
<circle cx="1499.8" cy="1307.7" r="6.8" fill="#7e1416"/>
<circle cx="1521.7" cy="1320.6" r="6.8" fill="#7e1416"/>
<circle cx="1543.5" cy="1333.1" r="6.8" fill="#7e1416"/>
<circle cx="1565.3" cy="1347.4" r="6.8" fill="#7e1416"/>
<circle cx="1587.2" cy="1362.3" r="6.8" fill="#7e1416"/>
<circle cx="1609" cy="1375.2" r="6.8" fill="#7e1416"/>
<circle cx="1630.8" cy="1392.7" r="6.8" fill="#7e1416"/>
<circle cx="1652.6" cy="1409" r="6.8" fill="#7e1416"/>
<circle cx="1674.5" cy="1424.9" r="6.8" fill="#7e1416"/>
<circle cx="1696.3" cy="1433.8" r="6.8" fill="#7e1416"/>
<circle cx="1718.1" cy="1440.4" r="6.8" fill="#7e1416"/>
<polyline points="1107,1012.5 1128.8,1047.3 1150.7,1068.1 1172.5,1092 1194.3,1113.9 1216.1,1137.7 1238,1160.5 1259.8,1183.3 1281.6,1207.2 1303.4,1227.9 1325.2,1257.9 1347.1,1281.5 1368.9,1302.8 1390.7,1330.5 1412.5,1353.5 1434.4,1376.2 1456.2,1406 1478,1430.8 1499.8,1451.4 1521.7,1473.5" fill="none" stroke="#444" stroke-width="1.3" stroke-linejoin="round" />
<polygon points="1107,1004 1114.8,1018 1099.2,1018" fill="#fff" stroke="#1a1af0" stroke-width="1.3" stroke-linejoin="round" />
<polygon points="1107,1004 1111.8,1012.7 1102.2,1012.7" fill="#1a1af0" stroke="none" stroke-width="1" stroke-linejoin="round" />
<polygon points="1128.8,1038.8 1136.6,1052.8 1121,1052.8" fill="#fff" stroke="#1a1af0" stroke-width="1.3" stroke-linejoin="round" />
<polygon points="1128.8,1038.8 1133.7,1047.5 1124,1047.5" fill="#1a1af0" stroke="none" stroke-width="1" stroke-linejoin="round" />
<polygon points="1150.7,1059.6 1158.5,1073.6 1142.9,1073.6" fill="#fff" stroke="#1a1af0" stroke-width="1.3" stroke-linejoin="round" />
<polygon points="1150.7,1059.6 1155.5,1068.3 1145.8,1068.3" fill="#1a1af0" stroke="none" stroke-width="1" stroke-linejoin="round" />
<polygon points="1172.5,1083.5 1180.3,1097.5 1164.7,1097.5" fill="#fff" stroke="#1a1af0" stroke-width="1.3" stroke-linejoin="round" />
<polygon points="1172.5,1083.5 1177.3,1092.2 1167.6,1092.2" fill="#1a1af0" stroke="none" stroke-width="1" stroke-linejoin="round" />
<polygon points="1194.3,1105.4 1202.1,1119.4 1186.5,1119.4" fill="#fff" stroke="#1a1af0" stroke-width="1.3" stroke-linejoin="round" />
<polygon points="1194.3,1105.4 1199.1,1114.1 1189.5,1114.1" fill="#1a1af0" stroke="none" stroke-width="1" stroke-linejoin="round" />
<polygon points="1216.1,1129.2 1223.9,1143.2 1208.3,1143.2" fill="#fff" stroke="#1a1af0" stroke-width="1.3" stroke-linejoin="round" />
<polygon points="1216.1,1129.2 1221,1137.8 1211.3,1137.8" fill="#1a1af0" stroke="none" stroke-width="1" stroke-linejoin="round" />
<polygon points="1238,1152 1245.8,1166 1230.2,1166" fill="#fff" stroke="#1a1af0" stroke-width="1.3" stroke-linejoin="round" />
<polygon points="1238,1152 1242.8,1160.7 1233.1,1160.7" fill="#1a1af0" stroke="none" stroke-width="1" stroke-linejoin="round" />
<polygon points="1259.8,1174.8 1267.6,1188.8 1252,1188.8" fill="#fff" stroke="#1a1af0" stroke-width="1.3" stroke-linejoin="round" />
<polygon points="1259.8,1174.8 1264.6,1183.5 1254.9,1183.5" fill="#1a1af0" stroke="none" stroke-width="1" stroke-linejoin="round" />
<polygon points="1281.6,1198.7 1289.4,1212.7 1273.8,1212.7" fill="#fff" stroke="#1a1af0" stroke-width="1.3" stroke-linejoin="round" />
<polygon points="1281.6,1198.7 1286.4,1207.4 1276.8,1207.4" fill="#1a1af0" stroke="none" stroke-width="1" stroke-linejoin="round" />
<polygon points="1303.4,1219.4 1311.2,1233.4 1295.6,1233.4" fill="#fff" stroke="#1a1af0" stroke-width="1.3" stroke-linejoin="round" />
<polygon points="1303.4,1219.4 1308.3,1228.1 1298.6,1228.1" fill="#1a1af0" stroke="none" stroke-width="1" stroke-linejoin="round" />
<polygon points="1325.2,1249.4 1333,1263.4 1317.5,1263.4" fill="#fff" stroke="#1a1af0" stroke-width="1.3" stroke-linejoin="round" />
<polygon points="1325.2,1249.4 1330.1,1258.1 1320.4,1258.1" fill="#1a1af0" stroke="none" stroke-width="1" stroke-linejoin="round" />
<polygon points="1347.1,1273 1354.9,1287 1339.3,1287" fill="#fff" stroke="#1a1af0" stroke-width="1.3" stroke-linejoin="round" />
<polygon points="1347.1,1273 1351.9,1281.7 1342.2,1281.7" fill="#1a1af0" stroke="none" stroke-width="1" stroke-linejoin="round" />
<polygon points="1368.9,1294.3 1376.7,1308.3 1361.1,1308.3" fill="#fff" stroke="#1a1af0" stroke-width="1.3" stroke-linejoin="round" />
<polygon points="1368.9,1294.3 1373.7,1303 1364.1,1303" fill="#1a1af0" stroke="none" stroke-width="1" stroke-linejoin="round" />
<polygon points="1390.7,1322 1398.5,1336 1382.9,1336" fill="#fff" stroke="#1a1af0" stroke-width="1.3" stroke-linejoin="round" />
<polygon points="1390.7,1322 1395.6,1330.6 1385.9,1330.6" fill="#1a1af0" stroke="none" stroke-width="1" stroke-linejoin="round" />
<polygon points="1412.5,1345 1420.3,1359 1404.8,1359" fill="#fff" stroke="#1a1af0" stroke-width="1.3" stroke-linejoin="round" />
<polygon points="1412.5,1345 1417.4,1353.7 1407.7,1353.7" fill="#1a1af0" stroke="none" stroke-width="1" stroke-linejoin="round" />
<polygon points="1434.4,1367.7 1442.2,1381.7 1426.6,1381.7" fill="#fff" stroke="#1a1af0" stroke-width="1.3" stroke-linejoin="round" />
<polygon points="1434.4,1367.7 1439.2,1376.4 1429.5,1376.4" fill="#1a1af0" stroke="none" stroke-width="1" stroke-linejoin="round" />
<polygon points="1456.2,1397.5 1464,1411.5 1448.4,1411.5" fill="#fff" stroke="#1a1af0" stroke-width="1.3" stroke-linejoin="round" />
<polygon points="1456.2,1397.5 1461,1406.2 1451.4,1406.2" fill="#1a1af0" stroke="none" stroke-width="1" stroke-linejoin="round" />
<polygon points="1478,1422.3 1485.8,1436.3 1470.2,1436.3" fill="#fff" stroke="#1a1af0" stroke-width="1.3" stroke-linejoin="round" />
<polygon points="1478,1422.3 1482.9,1431 1473.2,1431" fill="#1a1af0" stroke="none" stroke-width="1" stroke-linejoin="round" />
<polygon points="1499.8,1442.9 1507.6,1456.9 1492,1456.9" fill="#fff" stroke="#1a1af0" stroke-width="1.3" stroke-linejoin="round" />
<polygon points="1499.8,1442.9 1504.7,1451.6 1495,1451.6" fill="#1a1af0" stroke="none" stroke-width="1" stroke-linejoin="round" />
<polygon points="1521.7,1465 1529.5,1479 1513.9,1479" fill="#fff" stroke="#1a1af0" stroke-width="1.3" stroke-linejoin="round" />
<polygon points="1521.7,1465 1526.5,1473.7 1516.8,1473.7" fill="#1a1af0" stroke="none" stroke-width="1" stroke-linejoin="round" />
<polyline points="1107,1041.3 1128.8,1063.2 1150.7,1092 1172.5,1119.8 1194.3,1149.6 1216.1,1178.4 1238,1208.2 1259.8,1237.1 1281.6,1270.7 1303.4,1302.8 1325.2,1329.5 1347.1,1357.4 1368.9,1377.2 1390.7,1401.4 1412.5,1415.4 1434.4,1439.8 1456.2,1457.1 1478,1480.5 1499.8,1493.7" fill="none" stroke="#333" stroke-width="1.4" stroke-linejoin="round" />
<rect x="1101" y="1035.3" width="12" height="12" fill="#0c0c0c"/>
<rect x="1122.8" y="1057.2" width="12" height="12" fill="#0c0c0c"/>
<rect x="1144.7" y="1086" width="12" height="12" fill="#0c0c0c"/>
<rect x="1166.5" y="1113.8" width="12" height="12" fill="#0c0c0c"/>
<rect x="1188.3" y="1143.6" width="12" height="12" fill="#0c0c0c"/>
<rect x="1210.1" y="1172.4" width="12" height="12" fill="#0c0c0c"/>
<rect x="1232" y="1202.2" width="12" height="12" fill="#0c0c0c"/>
<rect x="1253.8" y="1231.1" width="12" height="12" fill="#0c0c0c"/>
<rect x="1275.6" y="1264.7" width="12" height="12" fill="#0c0c0c"/>
<rect x="1297.4" y="1296.8" width="12" height="12" fill="#0c0c0c"/>
<rect x="1319.2" y="1323.5" width="12" height="12" fill="#0c0c0c"/>
<rect x="1341.1" y="1351.4" width="12" height="12" fill="#0c0c0c"/>
<rect x="1362.9" y="1371.2" width="12" height="12" fill="#0c0c0c"/>
<rect x="1384.7" y="1395.4" width="12" height="12" fill="#0c0c0c"/>
<rect x="1406.5" y="1409.4" width="12" height="12" fill="#0c0c0c"/>
<rect x="1428.4" y="1433.8" width="12" height="12" fill="#0c0c0c"/>
<rect x="1450.2" y="1451.1" width="12" height="12" fill="#0c0c0c"/>
<rect x="1472" y="1474.5" width="12" height="12" fill="#0c0c0c"/>
<rect x="1493.8" y="1487.7" width="12" height="12" fill="#0c0c0c"/>
<polyline points="1107,1033.4 1128.8,1145.6 1150.7,1193.4 1172.5,1247.9 1194.3,1288.4 1216.1,1334.5 1238,1377.2 1259.8,1413.4 1281.6,1445.7 1303.4,1475.6 1325.2,1499.4 1347.1,1518.2 1347.1,1530.2" fill="none" stroke="#e05050" stroke-width="1.4" stroke-linejoin="round" />
<rect x="1101" y="1027.4" width="12" height="12" fill="#e11b1b"/>
<rect x="1122.8" y="1139.6" width="12" height="12" fill="#e11b1b"/>
<rect x="1144.7" y="1187.4" width="12" height="12" fill="#e11b1b"/>
<rect x="1166.5" y="1241.9" width="12" height="12" fill="#e11b1b"/>
<rect x="1188.3" y="1282.4" width="12" height="12" fill="#e11b1b"/>
<rect x="1210.1" y="1328.5" width="12" height="12" fill="#e11b1b"/>
<rect x="1232" y="1371.2" width="12" height="12" fill="#e11b1b"/>
<rect x="1253.8" y="1407.4" width="12" height="12" fill="#e11b1b"/>
<rect x="1275.6" y="1439.7" width="12" height="12" fill="#e11b1b"/>
<rect x="1297.4" y="1469.6" width="12" height="12" fill="#e11b1b"/>
<rect x="1319.2" y="1493.4" width="12" height="12" fill="#e11b1b"/>
<rect x="1341.1" y="1512.2" width="12" height="12" fill="#e11b1b"/>
<rect x="1341.1" y="1524.2" width="12" height="12" fill="#e11b1b"/>
<polyline points="1107,1588.5 1128.8,1529.6 1150.7,1471.8 1172.5,1419.9 1194.3,1372.2 1216.1,1325.6 1238,1280.3 1259.8,1242.9 1281.6,1207.2 1303.4,1171.5 1325.2,1143.7 1347.1,1116.8 1368.9,1096.9 1390.7,1077.1 1412.5,1060.8 1434.4,1042.3 1456.2,1037.3 1478,1030.4 1499.8,1033.3 1521.7,1029.4 1543.5,1026.3 1565.3,1031.4 1587.2,1039.3 1609,1048.3 1630.8,1072.1 1652.6,1096 1674.5,1121.7 1696.3,1129.7" fill="none" stroke="#6e1a1a" stroke-width="1.7" stroke-linejoin="round" />
<circle cx="1107" cy="1588.5" r="6.8" fill="#7e1416"/>
<circle cx="1128.8" cy="1529.6" r="6.8" fill="#7e1416"/>
<circle cx="1150.7" cy="1471.8" r="6.8" fill="#7e1416"/>
<circle cx="1172.5" cy="1419.9" r="6.8" fill="#7e1416"/>
<circle cx="1194.3" cy="1372.2" r="6.8" fill="#7e1416"/>
<circle cx="1216.1" cy="1325.6" r="6.8" fill="#7e1416"/>
<circle cx="1238" cy="1280.3" r="6.8" fill="#7e1416"/>
<circle cx="1259.8" cy="1242.9" r="6.8" fill="#7e1416"/>
<circle cx="1281.6" cy="1207.2" r="6.8" fill="#7e1416"/>
<circle cx="1303.4" cy="1171.5" r="6.8" fill="#7e1416"/>
<circle cx="1325.2" cy="1143.7" r="6.8" fill="#7e1416"/>
<circle cx="1347.1" cy="1116.8" r="6.8" fill="#7e1416"/>
<circle cx="1368.9" cy="1096.9" r="6.8" fill="#7e1416"/>
<circle cx="1390.7" cy="1077.1" r="6.8" fill="#7e1416"/>
<circle cx="1412.5" cy="1060.8" r="6.8" fill="#7e1416"/>
<circle cx="1434.4" cy="1042.3" r="6.8" fill="#7e1416"/>
<circle cx="1456.2" cy="1037.3" r="6.8" fill="#7e1416"/>
<circle cx="1478" cy="1030.4" r="6.8" fill="#7e1416"/>
<circle cx="1499.8" cy="1033.3" r="6.8" fill="#7e1416"/>
<circle cx="1521.7" cy="1029.4" r="6.8" fill="#7e1416"/>
<circle cx="1543.5" cy="1026.3" r="6.8" fill="#7e1416"/>
<circle cx="1565.3" cy="1031.4" r="6.8" fill="#7e1416"/>
<circle cx="1587.2" cy="1039.3" r="6.8" fill="#7e1416"/>
<circle cx="1609" cy="1048.3" r="6.8" fill="#7e1416"/>
<circle cx="1630.8" cy="1072.1" r="6.8" fill="#7e1416"/>
<circle cx="1652.6" cy="1096" r="6.8" fill="#7e1416"/>
<circle cx="1674.5" cy="1121.7" r="6.8" fill="#7e1416"/>
<circle cx="1696.3" cy="1129.7" r="6.8" fill="#7e1416"/>
<polyline points="1107,1588.5 1128.8,1525.2 1150.7,1473.5 1172.5,1423.9 1194.3,1378.2 1216.1,1339.5 1238,1304.1 1259.8,1276.5 1281.6,1253.9 1303.4,1231.1 1325.2,1221 1347.1,1216.1 1368.9,1215.1 1390.7,1218.1 1412.5,1224.1 1434.4,1238 1456.2,1265.8 1478,1293 1499.8,1317.1 1521.7,1347.5" fill="none" stroke="#2424e0" stroke-width="1.6" stroke-linejoin="round" />
<polygon points="1107,1580 1114.8,1594 1099.2,1594" fill="#fff" stroke="#1a1af0" stroke-width="1.3" stroke-linejoin="round" />
<polygon points="1107,1580 1111.8,1588.7 1102.2,1588.7" fill="#1a1af0" stroke="none" stroke-width="1" stroke-linejoin="round" />
<polygon points="1128.8,1516.7 1136.6,1530.7 1121,1530.7" fill="#fff" stroke="#1a1af0" stroke-width="1.3" stroke-linejoin="round" />
<polygon points="1128.8,1516.7 1133.7,1525.4 1124,1525.4" fill="#1a1af0" stroke="none" stroke-width="1" stroke-linejoin="round" />
<polygon points="1150.7,1465 1158.5,1479 1142.9,1479" fill="#fff" stroke="#1a1af0" stroke-width="1.3" stroke-linejoin="round" />
<polygon points="1150.7,1465 1155.5,1473.6 1145.8,1473.6" fill="#1a1af0" stroke="none" stroke-width="1" stroke-linejoin="round" />
<polygon points="1172.5,1415.4 1180.3,1429.4 1164.7,1429.4" fill="#fff" stroke="#1a1af0" stroke-width="1.3" stroke-linejoin="round" />
<polygon points="1172.5,1415.4 1177.3,1424 1167.6,1424" fill="#1a1af0" stroke="none" stroke-width="1" stroke-linejoin="round" />
<polygon points="1194.3,1369.7 1202.1,1383.7 1186.5,1383.7" fill="#fff" stroke="#1a1af0" stroke-width="1.3" stroke-linejoin="round" />
<polygon points="1194.3,1369.7 1199.1,1378.4 1189.5,1378.4" fill="#1a1af0" stroke="none" stroke-width="1" stroke-linejoin="round" />
<polygon points="1216.1,1331 1223.9,1345 1208.3,1345" fill="#fff" stroke="#1a1af0" stroke-width="1.3" stroke-linejoin="round" />
<polygon points="1216.1,1331 1221,1339.7 1211.3,1339.7" fill="#1a1af0" stroke="none" stroke-width="1" stroke-linejoin="round" />
<polygon points="1238,1295.6 1245.8,1309.6 1230.2,1309.6" fill="#fff" stroke="#1a1af0" stroke-width="1.3" stroke-linejoin="round" />
<polygon points="1238,1295.6 1242.8,1304.3 1233.1,1304.3" fill="#1a1af0" stroke="none" stroke-width="1" stroke-linejoin="round" />
<polygon points="1259.8,1268 1267.6,1282 1252,1282" fill="#fff" stroke="#1a1af0" stroke-width="1.3" stroke-linejoin="round" />
<polygon points="1259.8,1268 1264.6,1276.7 1254.9,1276.7" fill="#1a1af0" stroke="none" stroke-width="1" stroke-linejoin="round" />
<polygon points="1281.6,1245.4 1289.4,1259.4 1273.8,1259.4" fill="#fff" stroke="#1a1af0" stroke-width="1.3" stroke-linejoin="round" />
<polygon points="1281.6,1245.4 1286.4,1254.1 1276.8,1254.1" fill="#1a1af0" stroke="none" stroke-width="1" stroke-linejoin="round" />
<polygon points="1303.4,1222.6 1311.2,1236.6 1295.6,1236.6" fill="#fff" stroke="#1a1af0" stroke-width="1.3" stroke-linejoin="round" />
<polygon points="1303.4,1222.6 1308.3,1231.2 1298.6,1231.2" fill="#1a1af0" stroke="none" stroke-width="1" stroke-linejoin="round" />
<polygon points="1325.2,1212.5 1333,1226.5 1317.5,1226.5" fill="#fff" stroke="#1a1af0" stroke-width="1.3" stroke-linejoin="round" />
<polygon points="1325.2,1212.5 1330.1,1221.2 1320.4,1221.2" fill="#1a1af0" stroke="none" stroke-width="1" stroke-linejoin="round" />
<polygon points="1347.1,1207.6 1354.9,1221.6 1339.3,1221.6" fill="#fff" stroke="#1a1af0" stroke-width="1.3" stroke-linejoin="round" />
<polygon points="1347.1,1207.6 1351.9,1216.3 1342.2,1216.3" fill="#1a1af0" stroke="none" stroke-width="1" stroke-linejoin="round" />
<polygon points="1368.9,1206.6 1376.7,1220.6 1361.1,1220.6" fill="#fff" stroke="#1a1af0" stroke-width="1.3" stroke-linejoin="round" />
<polygon points="1368.9,1206.6 1373.7,1215.3 1364.1,1215.3" fill="#1a1af0" stroke="none" stroke-width="1" stroke-linejoin="round" />
<polygon points="1390.7,1209.6 1398.5,1223.6 1382.9,1223.6" fill="#fff" stroke="#1a1af0" stroke-width="1.3" stroke-linejoin="round" />
<polygon points="1390.7,1209.6 1395.6,1218.3 1385.9,1218.3" fill="#1a1af0" stroke="none" stroke-width="1" stroke-linejoin="round" />
<polygon points="1412.5,1215.6 1420.3,1229.6 1404.8,1229.6" fill="#fff" stroke="#1a1af0" stroke-width="1.3" stroke-linejoin="round" />
<polygon points="1412.5,1215.6 1417.4,1224.3 1407.7,1224.3" fill="#1a1af0" stroke="none" stroke-width="1" stroke-linejoin="round" />
<polygon points="1434.4,1229.5 1442.2,1243.5 1426.6,1243.5" fill="#fff" stroke="#1a1af0" stroke-width="1.3" stroke-linejoin="round" />
<polygon points="1434.4,1229.5 1439.2,1238.2 1429.5,1238.2" fill="#1a1af0" stroke="none" stroke-width="1" stroke-linejoin="round" />
<polygon points="1456.2,1257.3 1464,1271.3 1448.4,1271.3" fill="#fff" stroke="#1a1af0" stroke-width="1.3" stroke-linejoin="round" />
<polygon points="1456.2,1257.3 1461,1266 1451.4,1266" fill="#1a1af0" stroke="none" stroke-width="1" stroke-linejoin="round" />
<polygon points="1478,1284.5 1485.8,1298.5 1470.2,1298.5" fill="#fff" stroke="#1a1af0" stroke-width="1.3" stroke-linejoin="round" />
<polygon points="1478,1284.5 1482.9,1293.1 1473.2,1293.1" fill="#1a1af0" stroke="none" stroke-width="1" stroke-linejoin="round" />
<polygon points="1499.8,1308.6 1507.6,1322.6 1492,1322.6" fill="#fff" stroke="#1a1af0" stroke-width="1.3" stroke-linejoin="round" />
<polygon points="1499.8,1308.6 1504.7,1317.2 1495,1317.2" fill="#1a1af0" stroke="none" stroke-width="1" stroke-linejoin="round" />
<polygon points="1521.7,1339 1529.5,1353 1513.9,1353" fill="#fff" stroke="#1a1af0" stroke-width="1.3" stroke-linejoin="round" />
<polygon points="1521.7,1339 1526.5,1347.7 1516.8,1347.7" fill="#1a1af0" stroke="none" stroke-width="1" stroke-linejoin="round" />
<polyline points="1107,1588.5 1128.8,1530.2 1150.7,1478.5 1172.5,1433.8 1194.3,1396.1 1216.1,1362.9 1238,1337.5 1259.8,1319 1281.6,1308.7 1303.4,1302.7 1325.2,1303.7 1347.1,1307.7 1368.9,1309.7 1390.7,1319.6 1412.5,1322 1434.4,1342.4 1456.2,1356 1478,1385.6 1499.8,1400" fill="none" stroke="#2a2ad8" stroke-width="1.6" stroke-linejoin="round" />
<rect x="1101" y="1582.5" width="12" height="12" fill="#0c0c0c"/>
<rect x="1122.8" y="1524.2" width="12" height="12" fill="#0c0c0c"/>
<rect x="1144.7" y="1472.5" width="12" height="12" fill="#0c0c0c"/>
<rect x="1166.5" y="1427.8" width="12" height="12" fill="#0c0c0c"/>
<rect x="1188.3" y="1390.1" width="12" height="12" fill="#0c0c0c"/>
<rect x="1210.1" y="1356.9" width="12" height="12" fill="#0c0c0c"/>
<rect x="1232" y="1331.5" width="12" height="12" fill="#0c0c0c"/>
<rect x="1253.8" y="1313" width="12" height="12" fill="#0c0c0c"/>
<rect x="1275.6" y="1302.7" width="12" height="12" fill="#0c0c0c"/>
<rect x="1297.4" y="1296.7" width="12" height="12" fill="#0c0c0c"/>
<rect x="1319.2" y="1297.7" width="12" height="12" fill="#0c0c0c"/>
<rect x="1341.1" y="1301.7" width="12" height="12" fill="#0c0c0c"/>
<rect x="1362.9" y="1303.7" width="12" height="12" fill="#0c0c0c"/>
<rect x="1384.7" y="1313.6" width="12" height="12" fill="#0c0c0c"/>
<rect x="1406.5" y="1316" width="12" height="12" fill="#0c0c0c"/>
<rect x="1428.4" y="1336.4" width="12" height="12" fill="#0c0c0c"/>
<rect x="1450.2" y="1350" width="12" height="12" fill="#0c0c0c"/>
<rect x="1472" y="1379.6" width="12" height="12" fill="#0c0c0c"/>
<rect x="1493.8" y="1394" width="12" height="12" fill="#0c0c0c"/>
<polyline points="1107,1588.5 1128.8,1546.6 1150.7,1510.7 1172.5,1483.5 1194.3,1465.6 1216.1,1456.6 1238,1455.7 1259.8,1459.3 1281.6,1468.6 1303.4,1481.4 1325.2,1505.3 1347.1,1525.2" fill="none" stroke="#e03030" stroke-width="1.6" stroke-linejoin="round" />
<rect x="1101" y="1582.5" width="12" height="12" fill="#e11b1b"/>
<rect x="1122.8" y="1540.6" width="12" height="12" fill="#e11b1b"/>
<rect x="1144.7" y="1504.7" width="12" height="12" fill="#e11b1b"/>
<rect x="1166.5" y="1477.5" width="12" height="12" fill="#e11b1b"/>
<rect x="1188.3" y="1459.6" width="12" height="12" fill="#e11b1b"/>
<rect x="1210.1" y="1450.6" width="12" height="12" fill="#e11b1b"/>
<rect x="1232" y="1449.7" width="12" height="12" fill="#e11b1b"/>
<rect x="1253.8" y="1453.3" width="12" height="12" fill="#e11b1b"/>
<rect x="1275.6" y="1462.6" width="12" height="12" fill="#e11b1b"/>
<rect x="1297.4" y="1475.4" width="12" height="12" fill="#e11b1b"/>
<rect x="1319.2" y="1499.3" width="12" height="12" fill="#e11b1b"/>
<rect x="1341.1" y="1519.2" width="12" height="12" fill="#e11b1b"/>
</g>
<rect x="1107" y="954.3" width="785.7" height="634.2" fill="none" stroke="#111" stroke-width="2.8"/>
<line x1="1150.7" y1="1588.5" x2="1150.7" y2="1583" stroke="#111" stroke-width="2.5" />
<line x1="1150.7" y1="954.3" x2="1150.7" y2="959.8" stroke="#111" stroke-width="2.5" />
<line x1="1194.3" y1="1588.5" x2="1194.3" y2="1577" stroke="#111" stroke-width="2.5" />
<line x1="1194.3" y1="954.3" x2="1194.3" y2="965.8" stroke="#111" stroke-width="2.5" />
<line x1="1238" y1="1588.5" x2="1238" y2="1583" stroke="#111" stroke-width="2.5" />
<line x1="1238" y1="954.3" x2="1238" y2="959.8" stroke="#111" stroke-width="2.5" />
<line x1="1281.6" y1="1588.5" x2="1281.6" y2="1577" stroke="#111" stroke-width="2.5" />
<line x1="1281.6" y1="954.3" x2="1281.6" y2="965.8" stroke="#111" stroke-width="2.5" />
<line x1="1325.2" y1="1588.5" x2="1325.2" y2="1583" stroke="#111" stroke-width="2.5" />
<line x1="1325.2" y1="954.3" x2="1325.2" y2="959.8" stroke="#111" stroke-width="2.5" />
<line x1="1368.9" y1="1588.5" x2="1368.9" y2="1577" stroke="#111" stroke-width="2.5" />
<line x1="1368.9" y1="954.3" x2="1368.9" y2="965.8" stroke="#111" stroke-width="2.5" />
<line x1="1412.5" y1="1588.5" x2="1412.5" y2="1583" stroke="#111" stroke-width="2.5" />
<line x1="1412.5" y1="954.3" x2="1412.5" y2="959.8" stroke="#111" stroke-width="2.5" />
<line x1="1456.2" y1="1588.5" x2="1456.2" y2="1577" stroke="#111" stroke-width="2.5" />
<line x1="1456.2" y1="954.3" x2="1456.2" y2="965.8" stroke="#111" stroke-width="2.5" />
<line x1="1499.8" y1="1588.5" x2="1499.8" y2="1583" stroke="#111" stroke-width="2.5" />
<line x1="1499.8" y1="954.3" x2="1499.8" y2="959.8" stroke="#111" stroke-width="2.5" />
<line x1="1543.5" y1="1588.5" x2="1543.5" y2="1577" stroke="#111" stroke-width="2.5" />
<line x1="1543.5" y1="954.3" x2="1543.5" y2="965.8" stroke="#111" stroke-width="2.5" />
<line x1="1587.2" y1="1588.5" x2="1587.2" y2="1583" stroke="#111" stroke-width="2.5" />
<line x1="1587.2" y1="954.3" x2="1587.2" y2="959.8" stroke="#111" stroke-width="2.5" />
<line x1="1630.8" y1="1588.5" x2="1630.8" y2="1577" stroke="#111" stroke-width="2.5" />
<line x1="1630.8" y1="954.3" x2="1630.8" y2="965.8" stroke="#111" stroke-width="2.5" />
<line x1="1674.5" y1="1588.5" x2="1674.5" y2="1583" stroke="#111" stroke-width="2.5" />
<line x1="1674.5" y1="954.3" x2="1674.5" y2="959.8" stroke="#111" stroke-width="2.5" />
<line x1="1718.1" y1="1588.5" x2="1718.1" y2="1577" stroke="#111" stroke-width="2.5" />
<line x1="1718.1" y1="954.3" x2="1718.1" y2="965.8" stroke="#111" stroke-width="2.5" />
<line x1="1761.8" y1="1588.5" x2="1761.8" y2="1583" stroke="#111" stroke-width="2.5" />
<line x1="1761.8" y1="954.3" x2="1761.8" y2="959.8" stroke="#111" stroke-width="2.5" />
<line x1="1805.4" y1="1588.5" x2="1805.4" y2="1577" stroke="#111" stroke-width="2.5" />
<line x1="1805.4" y1="954.3" x2="1805.4" y2="965.8" stroke="#111" stroke-width="2.5" />
<line x1="1849.1" y1="1588.5" x2="1849.1" y2="1583" stroke="#111" stroke-width="2.5" />
<line x1="1849.1" y1="954.3" x2="1849.1" y2="959.8" stroke="#111" stroke-width="2.5" />
<line x1="1094" y1="1588.5" x2="1107" y2="1588.5" stroke="#111" stroke-width="2.5" />
<line x1="1100" y1="1530.9" x2="1107" y2="1530.9" stroke="#111" stroke-width="2.5" />
<line x1="1094" y1="1473.3" x2="1107" y2="1473.3" stroke="#111" stroke-width="2.5" />
<line x1="1100" y1="1415.7" x2="1107" y2="1415.7" stroke="#111" stroke-width="2.5" />
<line x1="1094" y1="1358.1" x2="1107" y2="1358.1" stroke="#111" stroke-width="2.5" />
<line x1="1100" y1="1300.5" x2="1107" y2="1300.5" stroke="#111" stroke-width="2.5" />
<line x1="1094" y1="1242.9" x2="1107" y2="1242.9" stroke="#111" stroke-width="2.5" />
<line x1="1100" y1="1185.3" x2="1107" y2="1185.3" stroke="#111" stroke-width="2.5" />
<line x1="1094" y1="1127.7" x2="1107" y2="1127.7" stroke="#111" stroke-width="2.5" />
<line x1="1100" y1="1070.1" x2="1107" y2="1070.1" stroke="#111" stroke-width="2.5" />
<line x1="1094" y1="1012.5" x2="1107" y2="1012.5" stroke="#111" stroke-width="2.5" />
<line x1="1100" y1="954.9" x2="1107" y2="954.9" stroke="#111" stroke-width="2.5" />
<line x1="1892.7" y1="1556.8" x2="1886.2" y2="1556.8" stroke="#111" stroke-width="2.5" />
<line x1="1892.7" y1="1525.1" x2="1883.9" y2="1525.1" stroke="#111" stroke-width="2.5" />
<line x1="1892.7" y1="1493.4" x2="1886.2" y2="1493.4" stroke="#111" stroke-width="2.5" />
<line x1="1892.7" y1="1461.7" x2="1883.9" y2="1461.7" stroke="#111" stroke-width="2.5" />
<line x1="1892.7" y1="1430" x2="1886.2" y2="1430" stroke="#111" stroke-width="2.5" />
<line x1="1892.7" y1="1398.2" x2="1883.9" y2="1398.2" stroke="#111" stroke-width="2.5" />
<line x1="1892.7" y1="1366.5" x2="1886.2" y2="1366.5" stroke="#111" stroke-width="2.5" />
<line x1="1892.7" y1="1334.8" x2="1883.9" y2="1334.8" stroke="#111" stroke-width="2.5" />
<line x1="1892.7" y1="1303.1" x2="1886.2" y2="1303.1" stroke="#111" stroke-width="2.5" />
<line x1="1892.7" y1="1271.4" x2="1883.9" y2="1271.4" stroke="#111" stroke-width="2.5" />
<line x1="1892.7" y1="1239.7" x2="1886.2" y2="1239.7" stroke="#111" stroke-width="2.5" />
<line x1="1892.7" y1="1208" x2="1883.9" y2="1208" stroke="#111" stroke-width="2.5" />
<line x1="1892.7" y1="1176.3" x2="1886.2" y2="1176.3" stroke="#111" stroke-width="2.5" />
<line x1="1892.7" y1="1144.6" x2="1883.9" y2="1144.6" stroke="#111" stroke-width="2.5" />
<line x1="1892.7" y1="1112.8" x2="1886.2" y2="1112.8" stroke="#111" stroke-width="2.5" />
<line x1="1892.7" y1="1081.1" x2="1883.9" y2="1081.1" stroke="#111" stroke-width="2.5" />
<line x1="1892.7" y1="1049.4" x2="1886.2" y2="1049.4" stroke="#111" stroke-width="2.5" />
<line x1="1892.7" y1="1017.7" x2="1883.9" y2="1017.7" stroke="#111" stroke-width="2.5" />
<line x1="1892.7" y1="986" x2="1886.2" y2="986" stroke="#111" stroke-width="2.5" />
<text x="1086" y="1597" font-family='"Liberation Sans", sans-serif' font-size="27.3" fill="#1c1c1c" font-weight="normal" font-style="normal" text-anchor="end" >0.0</text>
<text x="1086" y="1481.8" font-family='"Liberation Sans", sans-serif' font-size="27.3" fill="#1c1c1c" font-weight="normal" font-style="normal" text-anchor="end" >0.2</text>
<text x="1086" y="1366.6" font-family='"Liberation Sans", sans-serif' font-size="27.3" fill="#1c1c1c" font-weight="normal" font-style="normal" text-anchor="end" >0.4</text>
<text x="1086" y="1251.4" font-family='"Liberation Sans", sans-serif' font-size="27.3" fill="#1c1c1c" font-weight="normal" font-style="normal" text-anchor="end" >0.6</text>
<text x="1086" y="1136.2" font-family='"Liberation Sans", sans-serif' font-size="27.3" fill="#1c1c1c" font-weight="normal" font-style="normal" text-anchor="end" >0.8</text>
<text x="1086" y="1021" font-family='"Liberation Sans", sans-serif' font-size="27.3" fill="#1c1c1c" font-weight="normal" font-style="normal" text-anchor="end" >1.0</text>
<text x="1905.5" y="1597" font-family='"Liberation Sans", sans-serif' font-size="27.3" fill="#1c1c1c" font-weight="normal" font-style="normal" text-anchor="start" >0</text>
<text x="1905.5" y="1533.6" font-family='"Liberation Sans", sans-serif' font-size="27.3" fill="#1c1c1c" font-weight="normal" font-style="normal" text-anchor="start" >5</text>
<text x="1905.5" y="1470.2" font-family='"Liberation Sans", sans-serif' font-size="27.3" fill="#1c1c1c" font-weight="normal" font-style="normal" text-anchor="start" >10</text>
<text x="1905.5" y="1406.7" font-family='"Liberation Sans", sans-serif' font-size="27.3" fill="#1c1c1c" font-weight="normal" font-style="normal" text-anchor="start" >15</text>
<text x="1905.5" y="1343.3" font-family='"Liberation Sans", sans-serif' font-size="27.3" fill="#1c1c1c" font-weight="normal" font-style="normal" text-anchor="start" >20</text>
<text x="1905.5" y="1279.9" font-family='"Liberation Sans", sans-serif' font-size="27.3" fill="#1c1c1c" font-weight="normal" font-style="normal" text-anchor="start" >25</text>
<text x="1905.5" y="1216.5" font-family='"Liberation Sans", sans-serif' font-size="27.3" fill="#1c1c1c" font-weight="normal" font-style="normal" text-anchor="start" >30</text>
<text x="1905.5" y="1153.1" font-family='"Liberation Sans", sans-serif' font-size="27.3" fill="#1c1c1c" font-weight="normal" font-style="normal" text-anchor="start" >35</text>
<text x="1905.5" y="1089.6" font-family='"Liberation Sans", sans-serif' font-size="27.3" fill="#1c1c1c" font-weight="normal" font-style="normal" text-anchor="start" >40</text>
<text x="1905.5" y="1026.2" font-family='"Liberation Sans", sans-serif' font-size="27.3" fill="#1c1c1c" font-weight="normal" font-style="normal" text-anchor="start" >45</text>
<text x="1905.5" y="962.8" font-family='"Liberation Sans", sans-serif' font-size="27.3" fill="#1c1c1c" font-weight="normal" font-style="normal" text-anchor="start" >50</text>
<text x="1107" y="1623.4" font-family='"Liberation Sans", sans-serif' font-size="27.3" fill="#1c1c1c" font-weight="normal" font-style="normal" text-anchor="middle" >0</text>
<text x="1194.3" y="1623.4" font-family='"Liberation Sans", sans-serif' font-size="27.3" fill="#1c1c1c" font-weight="normal" font-style="normal" text-anchor="middle" >20</text>
<text x="1281.6" y="1623.4" font-family='"Liberation Sans", sans-serif' font-size="27.3" fill="#1c1c1c" font-weight="normal" font-style="normal" text-anchor="middle" >40</text>
<text x="1368.9" y="1623.4" font-family='"Liberation Sans", sans-serif' font-size="27.3" fill="#1c1c1c" font-weight="normal" font-style="normal" text-anchor="middle" >60</text>
<text x="1456.2" y="1623.4" font-family='"Liberation Sans", sans-serif' font-size="27.3" fill="#1c1c1c" font-weight="normal" font-style="normal" text-anchor="middle" >80</text>
<text x="1543.5" y="1623.4" font-family='"Liberation Sans", sans-serif' font-size="27.3" fill="#1c1c1c" font-weight="normal" font-style="normal" text-anchor="middle" >100</text>
<text x="1630.8" y="1623.4" font-family='"Liberation Sans", sans-serif' font-size="27.3" fill="#1c1c1c" font-weight="normal" font-style="normal" text-anchor="middle" >120</text>
<text x="1718.1" y="1623.4" font-family='"Liberation Sans", sans-serif' font-size="27.3" fill="#1c1c1c" font-weight="normal" font-style="normal" text-anchor="middle" >140</text>
<text x="1805.4" y="1623.4" font-family='"Liberation Sans", sans-serif' font-size="27.3" fill="#1c1c1c" font-weight="normal" font-style="normal" text-anchor="middle" >160</text>
<text x="1892.7" y="1623.4" font-family='"Liberation Sans", sans-serif' font-size="27.3" fill="#1c1c1c" font-weight="normal" font-style="normal" text-anchor="middle" >180</text>
<text x="0" y="0" font-family='"Liberation Serif", serif' font-size="45.3" fill="#111" font-weight="normal" font-style="normal" text-anchor="middle" transform="translate(1018 1276.5) rotate(-90)" >Cell potential,  <tspan font-style="italic">E</tspan><tspan font-style="italic" font-size="31" dy="6">cell</tspan><tspan dy="-6" dx="3"> / V</tspan></text>
<text x="0" y="0" font-family='"Liberation Serif", serif' font-size="46.4" fill="#111" font-weight="normal" font-style="normal" text-anchor="middle" transform="translate(2002.5 1272) rotate(-90)" >Power density,  <tspan font-style="italic">P</tspan> / mW cm<tspan font-size="28" dy="-13">-2</tspan></text>
<text x="1494.7" y="1700.5" font-family='"Liberation Serif", serif' font-size="46" fill="#111" font-weight="normal" font-style="normal" text-anchor="middle" word-spacing="0.8">Current density, <tspan font-style="italic">j</tspan> / mA cm<tspan font-size="28" dy="-13">-2</tspan></text>
<text x="1789.5" y="1077" font-family='"Liberation Serif", serif' font-size="62.3" fill="#000" font-weight="normal" font-style="normal" text-anchor="start" >c)</text>
<text x="1946.5" y="1086" font-family='"Liberation Serif", serif' font-size="11" fill="#222" font-weight="bold" font-style="normal" text-anchor="start" >c</text>
<text x="1600" y="1180.5" font-family='"Liberation Sans", sans-serif' font-size="27" fill="#7a2020" font-weight="normal" font-style="normal" text-anchor="start" >Pt-Ir / Ti fine mesh</text>
<text x="1483" y="1249" font-family='"Liberation Sans", sans-serif' font-size="27" fill="#2323ea" font-weight="normal" font-style="normal" text-anchor="start" >Pt-Ir / Ti felt</text>
<text x="1535.5" y="1475.5" font-family='"Liberation Sans", sans-serif' font-size="27" fill="#2a2a2a" font-weight="normal" font-style="normal" text-anchor="start" >Pt-Ir / Ti micromesh</text>
<text x="1371" y="1565" font-family='"Liberation Sans", sans-serif' font-size="27" fill="#e02626" font-weight="normal" font-style="normal" text-anchor="start" >Pt-Ir / Ti Plate</text>
<line x1="1671" y1="1094" x2="1719.3" y2="1094" stroke="#111" stroke-width="1.4" />
<polygon points="1729.3,1094 1712.3,1090.4 1712.3,1097.6" fill="#111" stroke="none" stroke-width="1" stroke-linejoin="round" />
<line x1="1422.7" y1="1221.1" x2="1458.4" y2="1221.1" stroke="#111" stroke-width="1.4" />
<polygon points="1468.4,1221.1 1451.4,1217.5 1451.4,1224.7" fill="#111" stroke="none" stroke-width="1" stroke-linejoin="round" />
<line x1="1510.2" y1="1402" x2="1548.5" y2="1402" stroke="#111" stroke-width="1.4" />
<polygon points="1558.5,1402 1541.5,1398.4 1541.5,1405.6" fill="#111" stroke="none" stroke-width="1" stroke-linejoin="round" />
<line x1="1359.2" y1="1524.8" x2="1397.8" y2="1524.8" stroke="#111" stroke-width="1.4" />
<polygon points="1407.8,1524.8 1390.8,1521.2 1390.8,1528.4" fill="#111" stroke="none" stroke-width="1" stroke-linejoin="round" />
</g>
</svg>
</body></html>
